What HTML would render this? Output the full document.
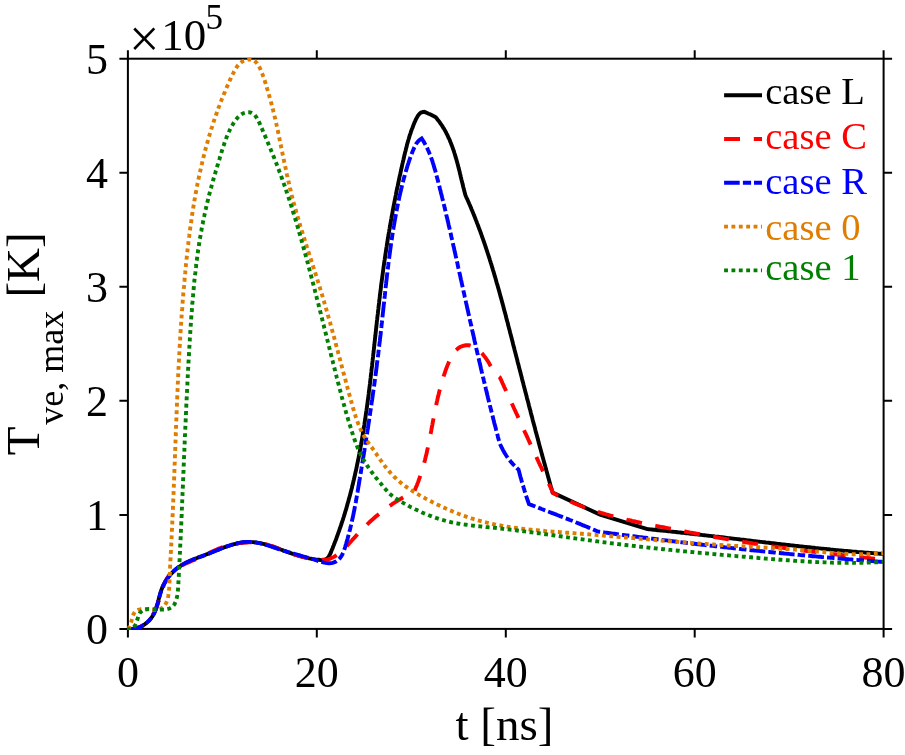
<!DOCTYPE html>
<html lang="en"><head><meta charset="utf-8"><title>T_ve,max vs t</title>
<style>html,body{margin:0;padding:0;background:#fff}svg{display:block}text{font-family:"Liberation Serif","Times New Roman",Times,serif;}</style></head><body>
<svg width="905" height="755" viewBox="0 0 905 755">
<rect width="905" height="755" fill="#fff"/>
<g stroke="#000" stroke-width="2.0" fill="none" stroke-linecap="butt">
<rect x="127.9" y="58.7" width="755.7" height="570.2"/>
<path d="M127.9 628.9 v8.5 M127.9 58.7 v-8.5 M316.8 628.9 v8.5 M316.8 58.7 v-8.5 M505.8 628.9 v8.5 M505.8 58.7 v-8.5 M694.7 628.9 v8.5 M694.7 58.7 v-8.5 M883.6 628.9 v8.5 M883.6 58.7 v-8.5 M127.9 628.9 h-8.5 M883.6 628.9 h8.5 M127.9 514.9 h-8.5 M883.6 514.9 h8.5 M127.9 400.8 h-8.5 M883.6 400.8 h8.5 M127.9 286.8 h-8.5 M883.6 286.8 h8.5 M127.9 172.7 h-8.5 M883.6 172.7 h8.5 M127.9 58.7 h-8.5 M883.6 58.7 h8.5"/>
</g>
<clipPath id="bx"><rect x="126.7" y="57.5" width="758.1" height="572.6"/></clipPath>
<g fill="none" stroke-width="3.9" stroke-linejoin="miter" clip-path="url(#bx)">
<path stroke="#000" d="M128.0 628.8 L129.5 629.0 L130.9 629.0 L132.4 628.9 L133.9 628.7 L135.4 628.5 L136.8 628.1 L138.3 627.6 L139.7 627.1 L141.1 626.4 L142.4 625.7 L143.8 624.9 L145.0 624.1 L146.3 623.1 L147.4 622.1 L148.6 621.1 L149.6 620.0 L150.6 618.8 L151.5 617.6 L152.4 616.4 L153.2 615.1 L153.9 613.8 L154.5 612.5 L155.1 611.1 L155.7 609.8 L156.2 608.4 L156.6 606.9 L157.1 605.5 L157.5 604.0 L157.9 602.6 L158.3 601.1 L158.6 599.6 L159.0 598.1 L159.4 596.7 L159.8 595.2 L160.2 593.7 L160.6 592.3 L161.1 590.8 L161.6 589.4 L162.1 588.0 L162.7 586.6 L163.3 585.3 L164.0 583.9 L164.7 582.6 L165.5 581.3 L166.3 580.1 L167.1 578.8 L168.0 577.6 L168.9 576.5 L169.8 575.3 L170.8 574.2 L171.8 573.1 L172.8 572.1 L173.9 571.0 L175.0 570.1 L176.1 569.1 L177.3 568.2 L178.4 567.3 L179.7 566.5 L180.9 565.7 L182.1 564.9 L183.4 564.1 L184.7 563.4 L186.0 562.7 L187.3 562.1 L188.7 561.4 L190.0 560.8 L191.4 560.2 L192.8 559.6 L194.2 559.1 L195.6 558.5 L197.0 558.0 L198.4 557.4 L199.9 556.9 L201.3 556.3 L202.7 555.8 L204.2 555.3 L205.6 554.7 L207.0 554.2 L208.5 553.6 L209.9 553.0 L211.3 552.5 L212.7 551.9 L214.2 551.3 L215.6 550.7 L217.0 550.2 L218.4 549.6 L219.9 549.0 L221.3 548.5 L222.7 548.0 L224.1 547.4 L225.6 546.9 L227.0 546.4 L228.4 545.9 L229.8 545.5 L231.3 545.0 L232.7 544.6 L234.1 544.2 L235.6 543.8 L237.0 543.5 L238.4 543.2 L239.9 542.9 L241.3 542.7 L242.7 542.5 L244.2 542.3 L245.6 542.2 L247.1 542.1 L248.5 542.0 L250.0 542.0 L251.4 542.1 L252.9 542.1 L254.3 542.3 L255.8 542.4 L257.2 542.6 L258.7 542.9 L260.2 543.2 L261.6 543.5 L263.1 543.8 L264.6 544.2 L266.0 544.6 L267.5 545.0 L269.0 545.5 L270.4 545.9 L271.9 546.4 L273.4 546.9 L274.8 547.4 L276.3 547.9 L277.7 548.4 L279.2 549.0 L280.6 549.5 L282.1 550.0 L283.5 550.6 L285.0 551.1 L286.4 551.6 L287.8 552.2 L289.2 552.7 L290.7 553.2 L292.1 553.7 L293.5 554.1 L294.9 554.6 L296.3 555.0 L297.7 555.4 L299.1 555.8 L300.5 556.2 L301.9 556.6 L303.4 557.0 L304.8 557.3 L306.3 557.7 L307.8 558.0 L309.2 558.3 L310.8 558.6 L312.3 558.9 L313.9 559.1 L315.5 559.4 L317.1 559.6 L318.8 559.8 L320.4 560.0 L322.1 560.1 L323.6 560.0 L325.0 559.7 L326.1 559.1 L327.2 558.3 L328.1 557.4 L328.9 556.3 L329.6 555.1 L330.3 553.7 L330.9 552.4 L331.4 551.0 L332.0 549.6 L332.6 548.2 L333.1 546.8 L333.7 545.4 L334.2 544.0 L334.8 542.6 L335.3 541.2 L335.9 539.8 L336.4 538.3 L336.9 536.9 L337.4 535.5 L337.9 534.1 L338.4 532.7 L338.9 531.3 L339.4 529.9 L339.9 528.4 L340.4 527.0 L340.9 525.6 L341.4 524.2 L341.8 522.7 L342.3 521.3 L342.8 519.9 L343.2 518.5 L343.7 517.0 L344.1 515.6 L344.6 514.2 L345.0 512.7 L345.4 511.3 L345.9 509.9 L346.3 508.4 L346.7 507.0 L347.1 505.6 L347.5 504.1 L347.9 502.7 L348.4 501.2 L348.7 499.8 L349.1 498.4 L349.5 496.9 L349.9 495.5 L350.3 494.0 L350.7 492.6 L351.0 491.1 L351.4 489.7 L351.8 488.2 L352.1 486.8 L352.5 485.3 L352.9 483.9 L353.2 482.4 L353.5 481.0 L353.9 479.5 L354.2 478.1 L354.6 476.6 L354.9 475.1 L355.2 473.7 L355.5 472.2 L355.9 470.8 L356.2 469.3 L356.5 467.8 L356.8 466.4 L357.1 464.9 L357.4 463.4 L357.7 462.0 L358.0 460.5 L358.3 459.1 L358.6 457.6 L358.9 456.1 L359.2 454.6 L359.5 453.2 L359.7 451.7 L360.0 450.2 L360.3 448.8 L360.5 447.3 L360.8 445.8 L361.1 444.3 L361.3 442.9 L361.6 441.4 L361.9 439.9 L362.1 438.4 L362.4 437.0 L362.6 435.5 L362.8 434.0 L363.1 432.5 L363.3 431.0 L363.6 429.6 L363.8 428.1 L364.0 426.6 L364.3 425.1 L364.5 423.6 L364.7 422.2 L364.9 420.7 L365.2 419.2 L365.4 417.7 L365.6 416.2 L365.8 414.7 L366.0 413.2 L366.2 411.8 L366.5 410.3 L366.7 408.8 L366.9 407.3 L367.1 405.8 L367.3 404.3 L367.5 402.8 L367.7 401.3 L367.9 399.9 L368.1 398.4 L368.3 396.9 L368.5 395.4 L368.7 393.9 L368.8 392.4 L369.0 390.9 L369.2 389.4 L369.4 387.9 L369.6 386.4 L369.8 384.9 L370.0 383.5 L370.1 382.0 L370.3 380.5 L370.5 379.0 L370.7 377.5 L370.8 376.0 L371.0 374.5 L371.2 373.0 L371.4 371.5 L371.5 370.0 L371.7 368.5 L371.9 367.0 L372.1 365.5 L372.2 364.0 L372.4 362.5 L372.6 361.0 L372.7 359.5 L372.9 358.0 L373.1 356.5 L373.2 355.1 L373.4 353.6 L373.6 352.1 L373.7 350.6 L373.9 349.1 L374.1 347.6 L374.2 346.1 L374.4 344.6 L374.5 343.1 L374.7 341.6 L374.9 340.1 L375.0 338.6 L375.2 337.1 L375.4 335.6 L375.5 334.1 L375.7 332.6 L375.9 331.1 L376.0 329.6 L376.2 328.1 L376.4 326.6 L376.5 325.1 L376.7 323.6 L376.8 322.1 L377.0 320.6 L377.2 319.2 L377.3 317.7 L377.5 316.2 L377.7 314.7 L377.9 313.2 L378.0 311.7 L378.2 310.2 L378.4 308.7 L378.5 307.2 L378.7 305.7 L378.9 304.2 L379.1 302.7 L379.2 301.2 L379.4 299.7 L379.6 298.3 L379.8 296.8 L379.9 295.3 L380.1 293.8 L380.3 292.3 L380.5 290.8 L380.7 289.3 L380.9 287.8 L381.0 286.3 L381.2 284.8 L381.4 283.4 L381.6 281.9 L381.8 280.4 L382.0 278.9 L382.2 277.4 L382.4 275.9 L382.6 274.4 L382.8 273.0 L383.0 271.5 L383.2 270.0 L383.4 268.5 L383.6 267.0 L383.8 265.5 L384.0 264.1 L384.2 262.6 L384.4 261.1 L384.7 259.6 L384.9 258.1 L385.1 256.7 L385.3 255.2 L385.5 253.7 L385.8 252.2 L386.0 250.7 L386.2 249.3 L386.4 247.8 L386.7 246.3 L386.9 244.8 L387.1 243.4 L387.4 241.9 L387.6 240.4 L387.8 238.9 L388.1 237.5 L388.3 236.0 L388.6 234.5 L388.8 233.0 L389.1 231.6 L389.3 230.1 L389.6 228.6 L389.8 227.1 L390.1 225.7 L390.3 224.2 L390.6 222.7 L390.9 221.2 L391.1 219.8 L391.4 218.3 L391.6 216.8 L391.9 215.4 L392.2 213.9 L392.5 212.4 L392.7 210.9 L393.0 209.5 L393.3 208.0 L393.6 206.5 L393.8 205.1 L394.1 203.6 L394.4 202.1 L394.7 200.7 L395.0 199.2 L395.3 197.7 L395.6 196.2 L395.9 194.8 L396.1 193.3 L396.4 191.8 L396.7 190.4 L397.0 188.9 L397.3 187.4 L397.7 186.0 L398.0 184.5 L398.3 183.0 L398.6 181.5 L398.9 180.1 L399.2 178.6 L399.5 177.1 L399.8 175.7 L400.2 174.2 L400.5 172.7 L400.8 171.3 L401.1 169.8 L401.5 168.3 L401.8 166.8 L402.1 165.4 L402.4 163.9 L402.8 162.4 L403.1 161.0 L403.5 159.5 L403.8 158.0 L404.1 156.6 L404.5 155.1 L404.8 153.6 L405.2 152.1 L405.6 150.7 L405.9 149.2 L406.3 147.7 L406.7 146.3 L407.0 144.8 L407.4 143.4 L407.8 141.9 L408.2 140.5 L408.7 139.0 L409.1 137.6 L409.5 136.2 L410.0 134.7 L410.5 133.3 L410.9 131.9 L411.4 130.5 L411.9 129.1 L412.5 127.7 L413.0 126.3 L413.5 124.9 L414.1 123.5 L414.7 122.1 L415.3 120.8 L415.9 119.4 L416.6 118.1 L417.3 116.8 L418.0 115.5 L418.9 114.4 L419.8 113.4 L421.0 112.6 L422.4 112.1 L424.1 111.8 L425.6 112.4 L427.1 113.0 L428.6 113.7 L430.1 114.3 L431.5 115.0 L433.0 115.8 L434.4 116.5 L435.8 117.3 L436.8 118.5 L437.7 119.7 L438.7 120.9 L439.6 122.1 L440.4 123.3 L441.3 124.5 L442.1 125.8 L442.9 127.1 L443.7 128.3 L444.5 129.6 L445.2 130.9 L445.9 132.2 L446.6 133.6 L447.3 134.9 L447.9 136.2 L448.5 137.6 L449.2 139.0 L449.8 140.3 L450.3 141.7 L450.9 143.1 L451.4 144.5 L452.0 145.9 L452.5 147.3 L453.0 148.8 L453.5 150.2 L454.0 151.6 L454.4 153.0 L454.9 154.5 L455.3 155.9 L455.7 157.4 L456.2 158.8 L456.6 160.3 L457.0 161.8 L457.4 163.2 L457.8 164.7 L458.2 166.2 L458.5 167.6 L458.9 169.1 L459.3 170.6 L459.7 172.1 L460.0 173.5 L460.4 175.0 L460.7 176.5 L461.1 178.0 L461.4 179.4 L461.8 180.9 L462.2 182.4 L462.5 183.8 L462.9 185.3 L463.2 186.7 L463.6 188.2 L464.0 189.7 L464.3 191.1 L464.7 192.5 L465.1 194.0 L465.5 195.4 L466.1 196.8 L466.7 198.1 L467.4 199.5 L468.0 200.9 L468.6 202.3 L469.2 203.7 L469.8 205.0 L470.4 206.4 L471.0 207.8 L471.5 209.2 L472.1 210.6 L472.7 212.0 L473.3 213.4 L473.8 214.8 L474.4 216.2 L474.9 217.6 L475.5 219.0 L476.0 220.4 L476.6 221.8 L477.1 223.2 L477.7 224.6 L478.2 226.0 L478.7 227.4 L479.2 228.8 L479.8 230.2 L480.3 231.6 L480.8 233.0 L481.3 234.4 L481.8 235.8 L482.3 237.3 L482.8 238.7 L483.3 240.1 L483.8 241.5 L484.3 242.9 L484.8 244.4 L485.3 245.8 L485.7 247.2 L486.2 248.6 L486.7 250.1 L487.2 251.5 L487.6 252.9 L488.1 254.3 L488.6 255.8 L489.0 257.2 L489.5 258.6 L489.9 260.1 L490.4 261.5 L490.8 262.9 L491.3 264.4 L491.7 265.8 L492.1 267.2 L492.6 268.7 L493.0 270.1 L493.5 271.6 L493.9 273.0 L494.3 274.4 L494.7 275.9 L495.2 277.3 L495.6 278.8 L496.0 280.2 L496.4 281.7 L496.8 283.1 L497.3 284.6 L497.7 286.0 L498.1 287.5 L498.5 288.9 L498.9 290.3 L499.3 291.8 L499.7 293.2 L500.1 294.7 L500.5 296.2 L500.9 297.6 L501.3 299.1 L501.7 300.5 L502.1 302.0 L502.5 303.4 L502.9 304.9 L503.3 306.3 L503.6 307.8 L504.0 309.2 L504.4 310.7 L504.8 312.1 L505.2 313.6 L505.6 315.1 L506.0 316.5 L506.3 318.0 L506.7 319.4 L507.1 320.9 L507.5 322.3 L507.9 323.8 L508.2 325.3 L508.6 326.7 L509.0 328.2 L509.4 329.6 L509.8 331.1 L510.1 332.5 L510.5 334.0 L510.9 335.5 L511.3 336.9 L511.6 338.4 L512.0 339.8 L512.4 341.3 L512.8 342.8 L513.1 344.2 L513.5 345.7 L513.9 347.1 L514.3 348.6 L514.6 350.0 L515.0 351.5 L515.4 353.0 L515.8 354.4 L516.1 355.9 L516.5 357.3 L516.9 358.8 L517.3 360.3 L517.6 361.7 L518.0 363.2 L518.4 364.6 L518.8 366.1 L519.1 367.6 L519.5 369.0 L519.9 370.5 L520.3 371.9 L520.6 373.4 L521.0 374.8 L521.4 376.3 L521.8 377.8 L522.1 379.2 L522.5 380.7 L522.9 382.1 L523.3 383.6 L523.6 385.0 L524.0 386.5 L524.4 388.0 L524.8 389.4 L525.1 390.9 L525.5 392.3 L525.9 393.8 L526.3 395.3 L526.7 396.7 L527.0 398.2 L527.4 399.6 L527.8 401.1 L528.2 402.5 L528.6 404.0 L528.9 405.5 L529.3 406.9 L529.7 408.4 L530.1 409.8 L530.5 411.3 L530.8 412.7 L531.2 414.2 L531.6 415.6 L532.0 417.1 L532.4 418.6 L532.7 420.0 L533.1 421.5 L533.5 422.9 L533.9 424.4 L534.3 425.8 L534.7 427.3 L535.1 428.7 L535.4 430.2 L535.8 431.7 L536.2 433.1 L536.6 434.6 L537.0 436.0 L537.4 437.5 L537.8 438.9 L538.2 440.4 L538.5 441.8 L538.9 443.3 L539.3 444.7 L539.7 446.2 L540.1 447.6 L540.5 449.1 L540.9 450.6 L541.3 452.0 L541.7 453.5 L542.1 454.9 L542.5 456.4 L542.9 457.8 L543.3 459.3 L543.7 460.7 L544.1 462.2 L544.5 463.6 L544.9 465.1 L545.3 466.5 L545.7 468.0 L546.1 469.4 L546.5 470.9 L546.9 472.3 L547.3 473.8 L547.7 475.2 L548.1 476.7 L548.5 478.1 L548.9 479.6 L549.3 481.0 L549.7 482.5 L550.1 483.9 L550.5 485.4 L550.9 486.8 L551.4 488.3 L551.8 489.7 L552.2 491.2 L552.6 492.6 L600.0 514.6 L647.4 529.1 L648.9 529.2 L650.4 529.4 L651.9 529.5 L653.4 529.7 L654.9 529.8 L656.4 530.0 L657.9 530.2 L659.4 530.3 L660.9 530.5 L662.4 530.6 L663.9 530.8 L665.4 530.9 L666.9 531.1 L668.4 531.2 L669.9 531.4 L671.4 531.6 L672.9 531.7 L674.4 531.9 L675.9 532.0 L677.4 532.2 L678.9 532.4 L680.4 532.5 L681.9 532.7 L683.4 532.9 L684.9 533.0 L686.4 533.2 L687.9 533.4 L689.4 533.5 L690.9 533.7 L692.4 533.9 L693.9 534.0 L695.4 534.2 L696.9 534.4 L698.4 534.6 L699.9 534.7 L701.4 534.9 L702.9 535.1 L704.4 535.2 L705.9 535.4 L707.4 535.6 L708.9 535.8 L710.4 535.9 L711.9 536.1 L713.4 536.3 L714.9 536.5 L716.4 536.6 L717.9 536.8 L719.4 537.0 L720.9 537.2 L722.4 537.3 L723.9 537.5 L725.4 537.7 L726.9 537.9 L728.4 538.1 L729.9 538.2 L731.4 538.4 L732.9 538.6 L734.4 538.8 L735.9 538.9 L737.4 539.1 L738.9 539.3 L740.4 539.5 L741.9 539.6 L743.4 539.8 L744.9 540.0 L746.4 540.2 L747.9 540.4 L749.4 540.5 L750.9 540.7 L752.4 540.9 L753.9 541.1 L755.4 541.2 L756.9 541.4 L758.4 541.6 L759.9 541.8 L761.4 541.9 L762.9 542.1 L764.4 542.3 L765.9 542.5 L767.4 542.6 L768.9 542.8 L770.4 543.0 L771.9 543.2 L773.4 543.3 L774.9 543.5 L776.4 543.7 L777.9 543.9 L779.4 544.0 L780.9 544.2 L782.4 544.4 L783.9 544.5 L785.4 544.7 L786.9 544.9 L788.4 545.0 L789.9 545.2 L791.3 545.4 L792.8 545.5 L794.3 545.7 L795.8 545.9 L797.3 546.0 L798.8 546.2 L800.3 546.4 L801.8 546.5 L803.3 546.7 L804.8 546.9 L806.3 547.0 L807.8 547.2 L809.4 547.3 L810.9 547.5 L812.4 547.7 L813.9 547.8 L815.4 548.0 L816.9 548.1 L818.4 548.3 L819.9 548.4 L821.4 548.6 L822.9 548.7 L824.4 548.9 L825.9 549.0 L827.4 549.2 L828.9 549.3 L830.4 549.5 L831.9 549.6 L833.4 549.8 L834.9 549.9 L836.4 550.1 L837.9 550.2 L839.4 550.4 L840.9 550.5 L842.4 550.6 L843.9 550.8 L845.4 550.9 L846.9 551.0 L848.4 551.2 L849.9 551.3 L851.4 551.4 L852.9 551.6 L854.4 551.7 L855.9 551.8 L857.4 552.0 L858.9 552.1 L860.4 552.2 L861.9 552.3 L863.4 552.4 L864.9 552.6 L866.4 552.7 L867.9 552.8 L869.4 552.9 L871.0 553.0 L872.5 553.1 L874.0 553.3 L875.5 553.4 L877.0 553.5 L878.5 553.6 L880.0 553.7 L881.5 553.8 L883.0 553.9"/>
<path stroke="#f00" stroke-dasharray="15.9 13.6" stroke-dashoffset="-0.5" d="M128.0 628.8 L129.7 628.9 L131.3 628.9 L132.9 628.8 L134.5 628.6 L136.0 628.3 L137.4 628.0 L138.8 627.5 L140.1 627.0 L141.4 626.3 L142.6 625.6 L143.8 624.8 L145.0 624.0 L146.1 623.1 L147.1 622.1 L148.1 621.1 L149.1 620.0 L150.0 618.9 L150.9 617.7 L151.7 616.5 L152.5 615.2 L153.3 613.9 L154.0 612.6 L154.7 611.2 L155.4 609.8 L156.0 608.4 L156.6 607.0 L157.1 605.6 L157.6 604.1 L158.1 602.6 L158.6 601.2 L159.1 599.7 L159.6 598.2 L160.0 596.7 L160.5 595.2 L160.9 593.7 L161.4 592.3 L161.9 590.8 L162.3 589.3 L162.8 587.9 L163.3 586.5 L163.9 585.1 L164.4 583.7 L165.0 582.4 L165.6 581.0 L166.3 579.8 L167.0 578.5 L167.7 577.3 L168.5 576.1 L169.3 575.0 L170.2 573.9 L171.2 572.8 L172.2 571.8 L173.2 570.9 L174.4 570.0 L175.5 569.1 L176.8 568.3 L178.0 567.5 L179.3 566.7 L180.7 566.0 L182.0 565.3 L183.4 564.6 L184.8 564.0 L186.3 563.3 L187.7 562.7 L189.1 562.1 L190.6 561.4 L192.0 560.8 L193.5 560.2 L194.9 559.6 L196.4 559.0 L197.8 558.3 L199.2 557.7 L200.6 557.0 L201.9 556.4 L203.3 555.7 L204.7 555.1 L206.0 554.5 L207.4 553.8 L208.7 553.2 L210.0 552.5 L211.4 551.9 L212.7 551.3 L214.1 550.7 L215.4 550.1 L216.8 549.5 L218.1 548.9 L219.5 548.4 L220.9 547.9 L222.3 547.3 L223.7 546.9 L225.1 546.4 L226.5 546.0 L227.9 545.5 L229.4 545.1 L230.8 544.8 L232.3 544.4 L233.8 544.1 L235.3 543.8 L236.7 543.5 L238.2 543.3 L239.7 543.1 L241.2 542.9 L242.7 542.8 L244.2 542.6 L245.7 542.5 L247.3 542.5 L248.8 542.4 L250.3 542.4 L251.8 542.4 L253.3 542.5 L254.8 542.6 L256.3 542.7 L257.8 542.9 L259.2 543.1 L260.7 543.3 L262.2 543.5 L263.6 543.8 L265.1 544.2 L266.5 544.5 L268.0 544.9 L269.4 545.3 L270.8 545.8 L272.2 546.2 L273.6 546.7 L275.0 547.2 L276.4 547.7 L277.9 548.3 L279.3 548.8 L280.7 549.3 L282.1 549.9 L283.5 550.5 L284.9 551.0 L286.3 551.6 L287.7 552.1 L289.1 552.6 L290.5 553.2 L292.0 553.7 L293.4 554.2 L294.8 554.7 L296.3 555.1 L297.7 555.6 L299.2 556.0 L300.7 556.4 L302.2 556.8 L303.6 557.2 L305.1 557.5 L306.6 557.8 L308.1 558.1 L309.6 558.4 L311.1 558.7 L312.6 558.9 L314.1 559.2 L315.6 559.3 L317.1 559.5 L318.6 559.7 L320.1 559.8 L321.6 559.8 L323.1 559.8 L324.5 559.8 L326.0 559.6 L327.4 559.4 L328.7 559.1 L330.1 558.7 L331.4 558.1 L332.7 557.5 L334.0 556.9 L335.2 556.1 L336.4 555.3 L337.6 554.5 L338.8 553.6 L339.9 552.6 L341.0 551.6 L342.1 550.6 L343.2 549.6 L344.3 548.5 L345.4 547.5 L346.4 546.4 L347.5 545.3 L348.5 544.2 L349.6 543.0 L350.6 541.9 L351.6 540.8 L352.6 539.6 L353.7 538.5 L354.7 537.4 L355.7 536.2 L356.7 535.1 L357.7 534.0 L358.8 532.9 L359.8 531.8 L360.9 530.7 L361.9 529.6 L363.0 528.5 L364.0 527.5 L365.1 526.4 L366.2 525.4 L367.3 524.3 L368.3 523.3 L369.4 522.3 L370.5 521.3 L371.6 520.3 L372.8 519.3 L373.9 518.3 L375.0 517.3 L376.1 516.3 L377.3 515.4 L378.4 514.4 L379.6 513.5 L380.8 512.6 L381.9 511.6 L383.1 510.7 L384.3 509.8 L385.5 508.9 L386.7 508.0 L387.9 507.1 L389.1 506.3 L390.4 505.4 L391.6 504.6 L392.8 503.7 L394.1 502.9 L395.3 502.1 L396.6 501.3 L397.9 500.5 L399.2 499.7 L400.5 499.0 L401.8 498.2 L403.1 497.5 L404.4 496.8 L405.7 496.1 L407.1 495.4 L408.4 494.7 L409.8 494.1 L411.1 493.4 L412.5 492.8 L413.9 492.2 L414.5 490.8 L415.1 489.4 L415.7 488.0 L416.3 486.6 L416.9 485.2 L417.4 483.8 L418.0 482.4 L418.5 481.0 L419.0 479.5 L419.5 478.1 L420.0 476.7 L420.5 475.3 L421.0 473.9 L421.4 472.4 L421.9 471.0 L422.3 469.6 L422.7 468.1 L423.1 466.7 L423.5 465.3 L423.9 463.8 L424.3 462.4 L424.7 461.0 L425.1 459.5 L425.4 458.1 L425.8 456.6 L426.1 455.2 L426.5 453.7 L426.8 452.3 L427.1 450.8 L427.4 449.4 L427.8 447.9 L428.1 446.5 L428.4 445.0 L428.7 443.6 L429.0 442.1 L429.3 440.7 L429.6 439.2 L429.9 437.7 L430.1 436.3 L430.4 434.8 L430.7 433.4 L431.0 431.9 L431.3 430.4 L431.5 429.0 L431.8 427.5 L432.1 426.0 L432.4 424.6 L432.6 423.1 L432.9 421.6 L433.2 420.2 L433.5 418.7 L433.8 417.2 L434.0 415.8 L434.3 414.3 L434.6 412.8 L434.9 411.3 L435.2 409.9 L435.5 408.4 L435.8 406.9 L436.1 405.5 L436.4 404.0 L436.7 402.5 L437.1 401.0 L437.4 399.6 L437.7 398.1 L438.1 396.6 L438.4 395.2 L438.8 393.7 L439.1 392.2 L439.5 390.8 L439.9 389.3 L440.3 387.8 L440.7 386.3 L441.1 384.9 L441.5 383.4 L441.9 381.9 L442.3 380.5 L442.8 379.0 L443.2 377.6 L443.7 376.1 L444.2 374.6 L444.7 373.2 L445.2 371.7 L445.7 370.2 L446.2 368.8 L446.8 367.3 L447.3 365.9 L447.9 364.4 L448.5 363.0 L449.1 361.5 L449.7 360.1 L450.4 358.7 L451.0 357.3 L451.8 356.0 L452.5 354.7 L453.3 353.4 L454.2 352.3 L455.1 351.2 L456.0 350.1 L457.1 349.2 L458.1 348.3 L459.3 347.5 L460.5 346.8 L461.8 346.3 L463.2 345.8 L464.6 345.5 L466.1 345.3 L467.5 345.2 L469.0 345.3 L470.4 345.6 L471.7 346.0 L473.1 346.6 L474.4 347.2 L475.7 348.0 L477.0 348.8 L478.2 349.8 L479.4 350.8 L480.6 351.9 L481.7 353.1 L482.8 354.3 L483.8 355.6 L484.8 356.9 L485.8 358.2 L486.7 359.5 L487.6 360.8 L488.4 362.1 L489.2 363.4 L489.9 364.7 L490.6 365.9 L491.3 367.1 L491.9 368.3 L492.6 369.4 L493.3 370.5 L494.1 371.7 L495.0 372.8 L496.0 374.0 L497.1 375.1 L498.4 376.3 L499.9 377.5 L500.5 378.9 L501.2 380.2 L501.8 381.6 L502.4 383.0 L503.1 384.4 L503.7 385.7 L504.3 387.1 L505.0 388.5 L505.6 389.9 L506.2 391.2 L506.9 392.6 L507.5 394.0 L508.1 395.4 L508.8 396.8 L509.4 398.1 L510.0 399.5 L510.7 400.9 L511.3 402.3 L511.9 403.6 L512.6 405.0 L513.2 406.4 L513.8 407.8 L514.4 409.1 L515.1 410.5 L515.7 411.9 L516.3 413.3 L517.0 414.7 L517.6 416.0 L518.2 417.4 L518.9 418.8 L519.5 420.2 L520.1 421.5 L520.7 422.9 L521.4 424.3 L522.0 425.7 L522.6 427.1 L523.3 428.4 L523.9 429.8 L524.5 431.2 L525.1 432.6 L525.8 433.9 L526.4 435.3 L527.0 436.7 L527.7 438.1 L528.3 439.5 L528.9 440.8 L529.5 442.2 L530.2 443.6 L530.8 445.0 L531.4 446.3 L532.1 447.7 L532.7 449.1 L533.3 450.5 L534.0 451.8 L534.6 453.2 L535.2 454.6 L535.9 456.0 L536.5 457.3 L537.1 458.7 L537.8 460.1 L538.4 461.5 L539.0 462.8 L539.7 464.2 L540.3 465.6 L541.0 467.0 L541.6 468.3 L542.2 469.7 L542.9 471.1 L543.5 472.5 L544.2 473.8 L544.8 475.2 L545.4 476.6 L546.1 477.9 L546.7 479.3 L547.4 480.7 L548.0 482.1 L548.7 483.4 L549.3 484.8 L550.0 486.2 L550.6 487.5 L551.2 488.9 L551.9 490.3 L552.5 491.6 L553.2 493.0 L554.5 493.7 L555.9 494.5 L557.2 495.2 L558.5 495.9 L559.9 496.6 L561.2 497.2 L562.6 497.9 L563.9 498.6 L565.3 499.2 L566.7 499.9 L568.0 500.5 L569.4 501.1 L570.8 501.7 L572.2 502.3 L573.5 502.9 L574.9 503.5 L576.3 504.1 L577.7 504.6 L579.1 505.2 L580.5 505.7 L581.9 506.3 L583.3 506.8 L584.7 507.3 L586.1 507.8 L587.5 508.3 L588.9 508.8 L590.3 509.3 L591.7 509.8 L593.1 510.3 L594.6 510.8 L596.0 511.2 L597.4 511.7 L598.8 512.1 L600.3 512.6 L601.7 513.0 L603.1 513.4 L604.6 513.8 L606.0 514.3 L607.4 514.7 L608.9 515.1 L610.3 515.5 L611.8 515.9 L613.2 516.3 L614.7 516.6 L616.1 517.0 L617.6 517.4 L619.0 517.7 L620.5 518.1 L621.9 518.5 L623.4 518.8 L624.8 519.2 L626.3 519.5 L627.8 519.9 L629.2 520.2 L630.7 520.5 L632.1 520.9 L633.6 521.2 L635.1 521.5 L636.5 521.8 L638.0 522.1 L639.5 522.5 L641.0 522.8 L642.4 523.1 L643.9 523.4 L645.4 523.7 L646.8 524.0 L648.3 524.3 L649.8 524.6 L651.3 524.9 L652.7 525.2 L654.2 525.5 L655.7 525.8 L657.2 526.1 L658.6 526.4 L660.1 526.7 L661.6 526.9 L663.1 527.2 L664.5 527.5 L666.0 527.8 L667.5 528.1 L669.0 528.4 L670.5 528.7 L671.9 529.0 L673.4 529.3 L674.9 529.5 L676.4 529.8 L677.8 530.1 L679.3 530.4 L680.8 530.7 L682.3 531.0 L683.8 531.2 L685.2 531.5 L686.7 531.8 L688.2 532.1 L689.7 532.4 L691.1 532.6 L692.6 532.9 L694.1 533.2 L695.6 533.5 L697.1 533.8 L698.5 534.0 L700.0 534.3 L701.5 534.6 L703.0 534.9 L704.4 535.1 L705.9 535.4 L707.4 535.7 L708.9 535.9 L710.4 536.2 L711.8 536.5 L713.3 536.7 L714.8 537.0 L716.3 537.3 L717.8 537.5 L719.2 537.8 L720.7 538.1 L722.2 538.3 L723.7 538.6 L725.2 538.8 L726.6 539.1 L728.1 539.3 L729.6 539.6 L731.1 539.9 L732.6 540.1 L734.1 540.4 L735.5 540.6 L737.0 540.8 L738.5 541.1 L740.0 541.3 L741.5 541.6 L742.9 541.8 L744.4 542.1 L745.9 542.3 L747.4 542.5 L748.9 542.8 L750.4 543.0 L751.8 543.2 L753.3 543.5 L754.8 543.7 L756.3 543.9 L757.8 544.2 L759.3 544.4 L760.7 544.6 L762.2 544.8 L763.7 545.1 L765.2 545.3 L766.7 545.5 L768.2 545.7 L769.7 545.9 L771.1 546.2 L772.6 546.4 L774.1 546.6 L775.6 546.8 L777.1 547.0 L778.6 547.2 L780.1 547.4 L781.5 547.6 L783.0 547.8 L784.5 548.0 L786.0 548.2 L787.5 548.4 L789.0 548.6 L790.5 548.8 L792.0 549.0 L793.5 549.2 L794.9 549.4 L796.4 549.6 L797.9 549.8 L799.4 550.0 L800.9 550.2 L802.4 550.4 L803.9 550.6 L805.4 550.8 L806.9 551.0 L808.3 551.1 L809.8 551.3 L811.3 551.5 L812.8 551.7 L814.3 551.9 L815.8 552.1 L817.3 552.2 L818.8 552.4 L820.3 552.6 L821.8 552.8 L823.2 552.9 L824.7 553.1 L826.2 553.3 L827.7 553.5 L829.2 553.6 L830.7 553.8 L832.2 554.0 L833.7 554.2 L835.2 554.3 L836.7 554.5 L838.2 554.7 L839.7 554.8 L841.2 555.0 L842.6 555.2 L844.1 555.3 L845.6 555.5 L847.1 555.7 L848.6 555.8 L850.1 556.0 L851.6 556.2 L853.1 556.3 L854.6 556.5 L856.1 556.7 L857.6 556.8 L859.1 557.0 L860.6 557.1 L862.1 557.3 L863.6 557.5 L865.1 557.6 L866.5 557.8 L868.0 557.9 L869.5 558.1 L871.0 558.3 L872.5 558.4 L874.0 558.6 L875.5 558.7 L877.0 558.9 L878.5 559.0 L880.0 559.2 L881.5 559.3 L883.0 559.5"/>
<path stroke="#00f" stroke-dasharray="15.8 3.1 7.5 3.1" stroke-dashoffset="-0.5" d="M128.0 628.8 L129.5 629.0 L131.0 629.0 L132.5 628.9 L134.0 628.7 L135.4 628.5 L136.9 628.1 L138.3 627.6 L139.7 627.1 L141.1 626.4 L142.5 625.7 L143.8 624.9 L145.1 624.0 L146.3 623.1 L147.4 622.1 L148.5 621.1 L149.6 620.0 L150.6 618.8 L151.5 617.6 L152.3 616.4 L153.1 615.1 L153.8 613.8 L154.5 612.5 L155.1 611.1 L155.6 609.7 L156.1 608.3 L156.6 606.9 L157.0 605.5 L157.5 604.0 L157.9 602.6 L158.3 601.1 L158.7 599.6 L159.0 598.1 L159.4 596.7 L159.8 595.2 L160.3 593.7 L160.7 592.3 L161.2 590.8 L161.7 589.4 L162.2 588.0 L162.8 586.6 L163.4 585.2 L164.1 583.9 L164.8 582.6 L165.5 581.3 L166.3 580.0 L167.1 578.8 L168.0 577.6 L168.9 576.4 L169.8 575.2 L170.8 574.1 L171.8 573.0 L172.8 572.0 L173.9 571.0 L175.0 570.0 L176.1 569.0 L177.2 568.1 L178.4 567.2 L179.6 566.4 L180.9 565.6 L182.1 564.8 L183.4 564.1 L184.7 563.4 L186.0 562.7 L187.4 562.1 L188.7 561.4 L190.1 560.8 L191.5 560.3 L192.9 559.7 L194.3 559.1 L195.7 558.6 L197.1 558.0 L198.5 557.5 L200.0 557.0 L201.4 556.5 L202.9 555.9 L204.3 555.4 L205.7 554.8 L207.2 554.3 L208.6 553.7 L210.0 553.1 L211.5 552.5 L212.9 551.9 L214.3 551.3 L215.7 550.8 L217.1 550.2 L218.6 549.6 L220.0 549.0 L221.4 548.4 L222.8 547.9 L224.2 547.3 L225.6 546.8 L227.0 546.3 L228.5 545.8 L229.9 545.3 L231.3 544.8 L232.7 544.4 L234.1 544.0 L235.6 543.6 L237.0 543.3 L238.4 542.9 L239.8 542.7 L241.3 542.4 L242.7 542.2 L244.2 542.1 L245.6 542.0 L247.1 541.9 L248.5 541.9 L250.0 541.9 L251.4 542.0 L252.9 542.1 L254.4 542.3 L255.9 542.5 L257.3 542.8 L258.8 543.1 L260.3 543.4 L261.8 543.8 L263.3 544.2 L264.8 544.6 L266.3 545.0 L267.7 545.5 L269.2 545.9 L270.7 546.4 L272.2 546.9 L273.6 547.4 L275.1 547.9 L276.6 548.4 L278.0 548.9 L279.4 549.3 L280.9 549.8 L282.3 550.2 L283.7 550.7 L285.2 551.1 L286.6 551.5 L288.0 552.0 L289.4 552.4 L290.8 552.8 L292.2 553.2 L293.6 553.6 L295.0 554.0 L296.4 554.4 L297.8 554.8 L299.2 555.2 L300.6 555.7 L302.1 556.1 L303.5 556.5 L304.9 556.9 L306.3 557.3 L307.8 557.7 L309.2 558.2 L310.6 558.6 L312.1 559.0 L313.6 559.5 L315.0 559.9 L316.5 560.4 L318.0 560.9 L319.5 561.3 L321.0 561.8 L322.5 562.2 L324.0 562.6 L325.5 562.9 L327.0 563.1 L328.4 563.2 L329.8 563.2 L331.2 563.1 L332.6 562.8 L333.9 562.4 L335.1 561.9 L336.3 561.3 L337.4 560.5 L338.5 559.6 L339.5 558.7 L340.4 557.6 L341.2 556.4 L341.9 555.2 L342.6 553.9 L343.2 552.5 L343.8 551.1 L344.3 549.6 L344.8 548.1 L345.3 546.6 L345.7 545.1 L346.2 543.6 L346.6 542.1 L347.0 540.6 L347.5 539.1 L347.9 537.6 L348.3 536.1 L348.7 534.6 L349.1 533.2 L349.4 531.7 L349.8 530.2 L350.2 528.7 L350.5 527.2 L350.9 525.7 L351.2 524.2 L351.6 522.8 L351.9 521.3 L352.2 519.8 L352.6 518.3 L352.9 516.8 L353.2 515.4 L353.5 513.9 L353.8 512.4 L354.1 510.9 L354.4 509.5 L354.7 508.0 L354.9 506.5 L355.2 505.1 L355.5 503.6 L355.8 502.1 L356.0 500.7 L356.3 499.2 L356.6 497.7 L356.8 496.2 L357.1 494.8 L357.3 493.3 L357.6 491.8 L357.8 490.4 L358.1 488.9 L358.3 487.4 L358.6 486.0 L358.8 484.5 L359.1 483.0 L359.3 481.5 L359.5 480.1 L359.8 478.6 L360.0 477.1 L360.3 475.7 L360.5 474.2 L360.8 472.7 L361.0 471.2 L361.2 469.8 L361.5 468.3 L361.7 466.8 L362.0 465.3 L362.2 463.9 L362.5 462.4 L362.7 460.9 L362.9 459.4 L363.2 458.0 L363.4 456.5 L363.7 455.0 L363.9 453.5 L364.1 452.1 L364.4 450.6 L364.6 449.1 L364.8 447.6 L365.1 446.1 L365.3 444.7 L365.5 443.2 L365.8 441.7 L366.0 440.2 L366.2 438.7 L366.5 437.2 L366.7 435.8 L366.9 434.3 L367.2 432.8 L367.4 431.3 L367.6 429.8 L367.9 428.3 L368.1 426.9 L368.3 425.4 L368.5 423.9 L368.8 422.4 L369.0 420.9 L369.2 419.4 L369.4 418.0 L369.7 416.5 L369.9 415.0 L370.1 413.5 L370.3 412.0 L370.5 410.5 L370.8 409.0 L371.0 407.6 L371.2 406.1 L371.4 404.6 L371.6 403.1 L371.8 401.6 L372.1 400.1 L372.3 398.6 L372.5 397.1 L372.7 395.6 L372.9 394.2 L373.1 392.7 L373.3 391.2 L373.5 389.7 L373.8 388.2 L374.0 386.7 L374.2 385.2 L374.4 383.7 L374.6 382.2 L374.8 380.7 L375.0 379.3 L375.2 377.8 L375.4 376.3 L375.6 374.8 L375.8 373.3 L376.0 371.8 L376.2 370.3 L376.4 368.8 L376.6 367.3 L376.8 365.8 L376.9 364.3 L377.1 362.8 L377.3 361.4 L377.5 359.9 L377.7 358.4 L377.9 356.9 L378.1 355.4 L378.3 353.9 L378.4 352.4 L378.6 350.9 L378.8 349.4 L379.0 347.9 L379.2 346.4 L379.3 344.9 L379.5 343.4 L379.7 342.0 L379.9 340.5 L380.0 339.0 L380.2 337.5 L380.4 336.0 L380.6 334.5 L380.7 333.0 L380.9 331.5 L381.1 330.0 L381.2 328.5 L381.4 327.0 L381.5 325.5 L381.7 324.0 L381.9 322.5 L382.0 321.0 L382.2 319.6 L382.4 318.1 L382.5 316.6 L382.7 315.1 L382.8 313.6 L383.0 312.1 L383.2 310.6 L383.3 309.1 L383.5 307.6 L383.6 306.1 L383.8 304.6 L384.0 303.1 L384.1 301.6 L384.3 300.2 L384.4 298.7 L384.6 297.2 L384.8 295.7 L384.9 294.2 L385.1 292.7 L385.2 291.2 L385.4 289.7 L385.6 288.2 L385.7 286.7 L385.9 285.2 L386.1 283.7 L386.2 282.3 L386.4 280.8 L386.6 279.3 L386.8 277.8 L386.9 276.3 L387.1 274.8 L387.3 273.3 L387.4 271.8 L387.6 270.3 L387.8 268.9 L388.0 267.4 L388.2 265.9 L388.3 264.4 L388.5 262.9 L388.7 261.4 L388.9 259.9 L389.1 258.4 L389.3 257.0 L389.5 255.5 L389.7 254.0 L389.9 252.5 L390.1 251.0 L390.3 249.5 L390.5 248.0 L390.7 246.6 L390.9 245.1 L391.1 243.6 L391.3 242.1 L391.6 240.6 L391.8 239.1 L392.0 237.7 L392.2 236.2 L392.4 234.7 L392.7 233.2 L392.9 231.7 L393.1 230.3 L393.4 228.8 L393.6 227.3 L393.9 225.8 L394.1 224.3 L394.4 222.9 L394.6 221.4 L394.9 219.9 L395.2 218.4 L395.4 217.0 L395.7 215.5 L396.0 214.0 L396.2 212.5 L396.5 211.1 L396.8 209.6 L397.1 208.1 L397.4 206.6 L397.7 205.2 L398.0 203.7 L398.3 202.2 L398.6 200.8 L398.9 199.3 L399.2 197.8 L399.5 196.3 L399.9 194.9 L400.2 193.4 L400.5 191.9 L400.9 190.5 L401.2 189.0 L401.6 187.5 L401.9 186.1 L402.3 184.6 L402.6 183.2 L403.0 181.7 L403.4 180.2 L403.8 178.8 L404.2 177.3 L404.6 175.9 L405.0 174.4 L405.4 173.0 L405.8 171.5 L406.2 170.1 L406.7 168.6 L407.1 167.2 L407.5 165.8 L408.0 164.3 L408.5 162.9 L408.9 161.5 L409.4 160.1 L409.9 158.7 L410.4 157.2 L410.9 155.8 L411.5 154.4 L412.0 153.0 L412.5 151.6 L413.1 150.2 L413.7 148.9 L414.2 147.5 L414.9 146.2 L415.6 144.9 L416.3 143.6 L417.2 142.4 L418.1 141.3 L419.2 140.3 L420.4 139.3 L421.7 138.5 L422.5 139.7 L423.3 141.0 L424.1 142.3 L424.8 143.6 L425.5 144.9 L426.2 146.2 L426.9 147.5 L427.5 148.8 L428.1 150.2 L428.7 151.5 L429.3 152.9 L429.8 154.2 L430.4 155.6 L430.9 157.0 L431.4 158.4 L431.9 159.8 L432.4 161.2 L432.8 162.6 L433.3 164.1 L433.7 165.5 L434.1 166.9 L434.5 168.4 L435.0 169.8 L435.4 171.2 L435.8 172.7 L436.1 174.1 L436.5 175.6 L436.9 177.0 L437.3 178.5 L437.7 179.9 L438.1 181.4 L438.4 182.9 L438.8 184.3 L439.2 185.8 L439.6 187.2 L439.9 188.7 L440.3 190.1 L440.7 191.6 L441.0 193.0 L441.4 194.5 L441.8 196.0 L442.1 197.4 L442.5 198.9 L442.8 200.3 L443.2 201.8 L443.5 203.3 L443.9 204.7 L444.3 206.2 L444.6 207.6 L445.0 209.1 L445.3 210.6 L445.7 212.0 L446.0 213.5 L446.3 215.0 L446.7 216.4 L447.0 217.9 L447.4 219.3 L447.7 220.8 L448.1 222.3 L448.4 223.7 L448.7 225.2 L449.1 226.7 L449.4 228.1 L449.8 229.6 L450.1 231.1 L450.4 232.5 L450.8 234.0 L451.1 235.5 L451.4 236.9 L451.8 238.4 L452.1 239.9 L452.4 241.3 L452.8 242.8 L453.1 244.3 L453.4 245.7 L453.8 247.2 L454.1 248.7 L454.4 250.1 L454.7 251.6 L455.1 253.1 L455.4 254.5 L455.7 256.0 L456.1 257.5 L456.4 258.9 L456.7 260.4 L457.0 261.9 L457.4 263.3 L457.7 264.8 L458.0 266.3 L458.3 267.7 L458.7 269.2 L459.0 270.6 L459.3 272.1 L459.6 273.6 L460.0 275.0 L460.3 276.5 L460.6 278.0 L460.9 279.4 L461.3 280.9 L461.6 282.4 L461.9 283.8 L462.2 285.3 L462.6 286.8 L462.9 288.2 L463.2 289.7 L463.5 291.2 L463.9 292.6 L464.2 294.1 L464.5 295.6 L464.8 297.0 L465.2 298.5 L465.5 300.0 L465.8 301.4 L466.1 302.9 L466.5 304.4 L466.8 305.8 L467.1 307.3 L467.4 308.8 L467.8 310.2 L468.1 311.7 L468.4 313.1 L468.7 314.6 L469.1 316.1 L469.4 317.5 L469.7 319.0 L470.0 320.5 L470.4 321.9 L470.7 323.4 L471.0 324.9 L471.4 326.3 L471.7 327.8 L472.0 329.3 L472.3 330.7 L472.7 332.2 L473.0 333.6 L473.3 335.1 L473.7 336.6 L474.0 338.0 L474.3 339.5 L474.6 341.0 L475.0 342.4 L475.3 343.9 L475.6 345.3 L476.0 346.8 L476.3 348.3 L476.6 349.7 L477.0 351.2 L477.3 352.7 L477.7 354.1 L478.0 355.6 L478.3 357.0 L478.7 358.5 L479.0 360.0 L479.3 361.4 L479.7 362.9 L480.0 364.3 L480.4 365.8 L480.7 367.3 L481.0 368.7 L481.4 370.2 L481.7 371.7 L482.1 373.1 L482.4 374.6 L482.8 376.0 L483.1 377.5 L483.5 378.9 L483.8 380.4 L484.2 381.9 L484.5 383.3 L484.9 384.8 L485.2 386.2 L485.6 387.7 L485.9 389.2 L486.3 390.6 L486.6 392.1 L487.0 393.5 L487.3 395.0 L487.7 396.5 L488.0 397.9 L488.4 399.4 L488.7 400.8 L489.1 402.3 L489.5 403.7 L489.8 405.2 L490.2 406.7 L490.6 408.1 L490.9 409.6 L491.3 411.0 L491.7 412.5 L492.0 413.9 L492.4 415.4 L492.8 416.8 L493.1 418.3 L493.5 419.8 L493.9 421.2 L494.2 422.7 L494.6 424.1 L495.0 425.6 L495.4 427.0 L495.8 428.5 L496.1 429.9 L496.5 431.4 L496.9 432.8 L497.3 434.3 L497.7 435.7 L498.0 437.2 L498.4 438.6 L498.8 440.1 L499.2 441.5 L499.6 443.0 L500.2 444.5 L500.9 445.9 L501.6 447.3 L502.3 448.7 L503.0 450.1 L503.8 451.5 L504.5 452.8 L505.4 454.2 L506.2 455.5 L507.1 456.8 L508.0 458.0 L508.9 459.3 L509.9 460.5 L510.8 461.7 L511.9 462.9 L512.9 464.1 L514.0 465.2 L515.1 466.3 L516.2 467.4 L517.3 468.5 L518.5 469.6 L518.9 471.1 L519.3 472.6 L519.7 474.1 L520.1 475.6 L520.5 477.1 L521.0 478.6 L521.4 480.2 L521.8 481.7 L522.3 483.2 L522.7 484.7 L523.2 486.1 L523.6 487.6 L524.1 489.1 L524.5 490.6 L525.0 492.1 L525.5 493.6 L525.9 495.1 L526.4 496.6 L526.9 498.1 L527.4 499.6 L527.9 501.0 L528.4 502.5 L528.9 504.0 L530.3 504.6 L531.7 505.1 L533.1 505.7 L534.6 506.2 L536.0 506.8 L537.4 507.3 L538.8 507.9 L540.2 508.4 L541.6 509.0 L543.0 509.5 L544.5 510.1 L545.9 510.6 L547.3 511.2 L548.7 511.7 L550.1 512.3 L551.5 512.8 L553.0 513.3 L554.4 513.9 L555.8 514.4 L557.2 515.0 L558.6 515.5 L560.0 516.1 L561.5 516.6 L562.9 517.2 L564.3 517.7 L565.7 518.3 L567.1 518.8 L568.5 519.4 L569.9 520.0 L571.4 520.5 L572.8 521.1 L574.2 521.6 L575.6 522.2 L577.0 522.8 L578.4 523.3 L579.8 523.9 L581.2 524.5 L582.6 525.1 L584.0 525.6 L585.4 526.2 L586.8 526.8 L588.2 527.4 L589.6 528.0 L591.0 528.6 L592.4 529.2 L593.8 529.8 L595.2 530.4 L596.6 531.0 L598.0 531.6 L599.5 531.8 L601.0 532.0 L602.5 532.2 L603.9 532.4 L605.4 532.6 L606.9 532.8 L608.4 533.0 L609.9 533.2 L611.4 533.4 L612.9 533.6 L614.4 533.8 L615.9 534.0 L617.3 534.2 L618.8 534.4 L620.3 534.6 L621.8 534.8 L623.3 535.0 L624.8 535.2 L626.3 535.4 L627.8 535.5 L629.2 535.7 L630.7 535.9 L632.2 536.1 L633.7 536.3 L635.2 536.5 L636.7 536.7 L638.2 536.9 L639.7 537.1 L641.2 537.3 L642.6 537.5 L644.1 537.7 L645.6 537.8 L647.1 538.0 L648.6 538.2 L650.1 538.4 L651.6 538.6 L653.1 538.8 L654.6 539.0 L656.0 539.2 L657.5 539.3 L659.0 539.5 L660.5 539.7 L662.0 539.9 L663.5 540.1 L665.0 540.3 L666.5 540.4 L668.0 540.6 L669.4 540.8 L670.9 541.0 L672.4 541.2 L673.9 541.4 L675.4 541.5 L676.9 541.7 L678.4 541.9 L679.9 542.1 L681.4 542.3 L682.9 542.4 L684.3 542.6 L685.8 542.8 L687.3 543.0 L688.8 543.1 L690.3 543.3 L691.8 543.5 L693.3 543.7 L694.8 543.8 L696.3 544.0 L697.8 544.2 L699.3 544.4 L700.7 544.5 L702.2 544.7 L703.7 544.9 L705.2 545.1 L706.7 545.2 L708.2 545.4 L709.7 545.6 L711.2 545.7 L712.7 545.9 L714.2 546.1 L715.7 546.3 L717.1 546.4 L718.6 546.6 L720.1 546.8 L721.6 546.9 L723.1 547.1 L724.6 547.3 L726.1 547.4 L727.6 547.6 L729.1 547.7 L730.6 547.9 L732.1 548.1 L733.6 548.2 L735.0 548.4 L736.5 548.6 L738.0 548.7 L739.5 548.9 L741.0 549.0 L742.5 549.2 L744.0 549.4 L745.5 549.5 L747.0 549.7 L748.5 549.8 L750.0 550.0 L751.5 550.2 L753.0 550.3 L754.4 550.5 L755.9 550.6 L757.4 550.8 L758.9 550.9 L760.4 551.1 L761.9 551.2 L763.4 551.4 L764.9 551.6 L766.4 551.7 L767.9 551.9 L769.4 552.0 L770.9 552.2 L772.4 552.3 L773.9 552.5 L775.3 552.6 L776.8 552.8 L778.3 552.9 L779.8 553.0 L781.3 553.2 L782.8 553.3 L784.3 553.5 L785.8 553.6 L787.3 553.8 L788.8 553.9 L790.3 554.1 L791.8 554.2 L793.3 554.4 L794.8 554.5 L796.3 554.6 L797.7 554.8 L799.2 554.9 L800.7 555.1 L802.2 555.2 L803.7 555.3 L805.2 555.5 L806.7 555.6 L808.2 555.8 L809.7 555.9 L811.2 556.0 L812.7 556.2 L814.2 556.3 L815.7 556.4 L817.2 556.6 L818.7 556.7 L820.2 556.8 L821.7 557.0 L823.2 557.1 L824.7 557.2 L826.1 557.4 L827.6 557.5 L829.1 557.6 L830.6 557.7 L832.1 557.9 L833.6 558.0 L835.1 558.1 L836.6 558.3 L838.1 558.4 L839.6 558.5 L841.1 558.6 L842.6 558.8 L844.1 558.9 L845.6 559.0 L847.1 559.1 L848.6 559.3 L850.1 559.4 L851.6 559.5 L853.1 559.6 L854.6 559.7 L856.1 559.9 L857.6 560.0 L859.1 560.1 L860.5 560.2 L862.0 560.3 L863.5 560.4 L865.0 560.6 L866.5 560.7 L868.0 560.8 L869.5 560.9 L871.0 561.0 L872.5 561.1 L874.0 561.2 L875.5 561.4 L877.0 561.5 L878.5 561.6 L880.0 561.7 L881.5 561.8 L883.0 561.9"/>
<path stroke="#de7d00" stroke-dasharray="3.85 3.52" stroke-dashoffset="6.65" d="M127.2 629.6 L128.2 628.6 L129.1 627.4 L129.8 626.1 L130.4 624.7 L130.9 623.2 L131.3 621.7 L131.7 620.1 L132.1 618.6 L132.5 617.1 L132.9 615.7 L133.4 614.4 L134.1 613.2 L134.8 612.1 L135.7 611.2 L136.8 610.5 L138.0 609.9 L139.3 609.6 L140.8 609.3 L142.4 609.2 L144.0 609.2 L145.6 609.2 L147.3 609.3 L149.0 609.4 L150.7 609.6 L152.3 609.7 L153.9 609.8 L155.5 609.8 L157.0 609.7 L158.4 609.5 L159.8 609.2 L161.0 608.7 L162.1 608.0 L163.2 607.2 L164.1 606.2 L164.9 605.1 L165.6 603.9 L166.3 602.6 L166.8 601.2 L167.3 599.7 L167.8 598.3 L168.1 596.8 L168.4 595.3 L168.6 593.8 L168.8 592.3 L169.0 590.8 L169.1 589.3 L169.2 587.8 L169.3 586.3 L169.3 584.8 L169.4 583.2 L169.5 581.7 L169.5 580.2 L169.6 578.7 L169.7 577.2 L169.7 575.7 L169.8 574.2 L169.9 572.7 L169.9 571.2 L170.0 569.7 L170.1 568.2 L170.1 566.7 L170.2 565.2 L170.3 563.7 L170.4 562.2 L170.4 560.7 L170.5 559.2 L170.6 557.7 L170.7 556.2 L170.7 554.7 L170.8 553.2 L170.9 551.7 L171.0 550.2 L171.0 548.7 L171.1 547.2 L171.2 545.7 L171.3 544.2 L171.3 542.7 L171.4 541.2 L171.5 539.7 L171.6 538.2 L171.6 536.7 L171.7 535.2 L171.8 533.7 L171.9 532.2 L171.9 530.7 L172.0 529.2 L172.1 527.7 L172.1 526.2 L172.2 524.7 L172.3 523.2 L172.3 521.7 L172.4 520.2 L172.5 518.7 L172.5 517.2 L172.6 515.7 L172.7 514.2 L172.7 512.7 L172.8 511.2 L172.9 509.7 L172.9 508.2 L173.0 506.7 L173.1 505.2 L173.1 503.8 L173.2 502.3 L173.3 500.8 L173.3 499.3 L173.4 497.8 L173.4 496.3 L173.5 494.8 L173.6 493.3 L173.6 491.8 L173.7 490.3 L173.7 488.8 L173.8 487.3 L173.8 485.8 L173.9 484.3 L174.0 482.8 L174.0 481.3 L174.1 479.8 L174.1 478.3 L174.2 476.8 L174.3 475.3 L174.3 473.8 L174.4 472.3 L174.4 470.8 L174.5 469.3 L174.5 467.8 L174.6 466.3 L174.6 464.8 L174.7 463.3 L174.8 461.8 L174.8 460.3 L174.9 458.8 L174.9 457.3 L175.0 455.8 L175.0 454.3 L175.1 452.8 L175.1 451.3 L175.2 449.8 L175.3 448.3 L175.3 446.8 L175.4 445.3 L175.4 443.8 L175.5 442.3 L175.5 440.8 L175.6 439.3 L175.6 437.8 L175.7 436.3 L175.8 434.8 L175.8 433.3 L175.9 431.8 L175.9 430.3 L176.0 428.8 L176.0 427.3 L176.1 425.8 L176.1 424.3 L176.2 422.8 L176.3 421.3 L176.3 419.8 L176.4 418.3 L176.4 416.8 L176.5 415.3 L176.6 413.8 L176.6 412.3 L176.7 410.8 L176.7 409.3 L176.8 407.8 L176.9 406.3 L176.9 404.8 L177.0 403.3 L177.0 401.8 L177.1 400.3 L177.2 398.8 L177.2 397.3 L177.3 395.8 L177.4 394.3 L177.4 392.8 L177.5 391.3 L177.6 389.8 L177.6 388.3 L177.7 386.8 L177.8 385.3 L177.8 383.8 L177.9 382.3 L178.0 380.8 L178.0 379.3 L178.1 377.8 L178.2 376.3 L178.2 374.8 L178.3 373.3 L178.4 371.8 L178.5 370.3 L178.5 368.8 L178.6 367.3 L178.7 365.8 L178.8 364.3 L178.8 362.8 L178.9 361.3 L179.0 359.8 L179.1 358.3 L179.1 356.8 L179.2 355.3 L179.3 353.8 L179.4 352.3 L179.5 350.8 L179.6 349.3 L179.6 347.8 L179.7 346.3 L179.8 344.9 L179.9 343.4 L180.0 341.9 L180.1 340.4 L180.2 338.9 L180.2 337.4 L180.3 335.9 L180.4 334.4 L180.5 332.9 L180.6 331.4 L180.7 329.9 L180.8 328.4 L180.9 326.9 L181.0 325.4 L181.1 323.9 L181.2 322.4 L181.3 320.9 L181.4 319.4 L181.5 317.9 L181.6 316.4 L181.7 314.9 L181.8 313.4 L181.9 311.9 L182.0 310.4 L182.2 308.9 L182.3 307.4 L182.4 305.9 L182.5 304.4 L182.6 302.9 L182.7 301.4 L182.8 299.9 L183.0 298.4 L183.1 296.9 L183.2 295.4 L183.3 294.0 L183.4 292.5 L183.6 291.0 L183.7 289.5 L183.8 288.0 L184.0 286.5 L184.1 285.0 L184.2 283.5 L184.3 282.0 L184.5 280.5 L184.6 279.0 L184.8 277.5 L184.9 276.0 L185.0 274.5 L185.2 273.0 L185.3 271.5 L185.5 270.0 L185.6 268.5 L185.7 267.1 L185.9 265.6 L186.0 264.1 L186.2 262.6 L186.4 261.1 L186.5 259.6 L186.7 258.1 L186.8 256.6 L187.0 255.1 L187.1 253.6 L187.3 252.1 L187.5 250.6 L187.6 249.1 L187.8 247.6 L188.0 246.2 L188.2 244.7 L188.3 243.2 L188.5 241.7 L188.7 240.2 L188.9 238.7 L189.1 237.2 L189.3 235.7 L189.4 234.2 L189.6 232.8 L189.8 231.3 L190.0 229.8 L190.2 228.3 L190.4 226.8 L190.6 225.3 L190.8 223.8 L191.1 222.4 L191.3 220.9 L191.5 219.4 L191.7 217.9 L191.9 216.4 L192.1 214.9 L192.4 213.5 L192.6 212.0 L192.8 210.5 L193.1 209.0 L193.3 207.5 L193.5 206.1 L193.8 204.6 L194.0 203.1 L194.3 201.6 L194.5 200.1 L194.8 198.7 L195.0 197.2 L195.3 195.7 L195.6 194.2 L195.8 192.8 L196.1 191.3 L196.4 189.8 L196.7 188.3 L196.9 186.9 L197.2 185.4 L197.5 183.9 L197.8 182.5 L198.1 181.0 L198.4 179.5 L198.7 178.1 L199.0 176.6 L199.3 175.1 L199.6 173.7 L200.0 172.2 L200.3 170.7 L200.6 169.3 L200.9 167.8 L201.3 166.4 L201.6 164.9 L202.0 163.4 L202.3 162.0 L202.6 160.5 L203.0 159.1 L203.4 157.6 L203.7 156.2 L204.1 154.7 L204.5 153.2 L204.8 151.8 L205.2 150.3 L205.6 148.9 L206.0 147.4 L206.4 146.0 L206.8 144.5 L207.2 143.1 L207.6 141.7 L208.0 140.2 L208.4 138.8 L208.8 137.3 L209.2 135.9 L209.7 134.4 L210.1 133.0 L210.5 131.6 L211.0 130.1 L211.4 128.7 L211.9 127.3 L212.3 125.8 L212.8 124.4 L213.3 123.0 L213.7 121.5 L214.2 120.1 L214.7 118.7 L215.2 117.3 L215.7 115.8 L216.2 114.4 L216.7 113.0 L217.2 111.6 L217.7 110.1 L218.2 108.7 L218.7 107.3 L219.3 105.9 L219.8 104.5 L220.3 103.1 L220.9 101.6 L221.4 100.2 L222.0 98.8 L222.6 97.4 L223.1 96.0 L223.7 94.6 L224.3 93.2 L224.9 91.8 L225.4 90.4 L226.0 89.0 L226.6 87.6 L227.3 86.2 L227.9 84.8 L228.5 83.4 L229.1 82.0 L229.7 80.6 L230.4 79.2 L231.0 77.8 L231.7 76.4 L232.3 75.0 L233.0 73.7 L233.7 72.3 L234.4 71.0 L235.1 69.7 L235.9 68.4 L236.7 67.2 L237.5 66.0 L238.4 64.9 L239.4 63.9 L240.4 63.0 L241.5 62.1 L242.6 61.4 L243.9 60.7 L245.2 60.2 L246.6 59.8 L248.1 59.5 L249.6 59.4 L251.1 59.5 L252.5 59.8 L253.8 60.4 L255.0 61.3 L256.1 62.3 L257.1 63.5 L258.0 64.8 L258.8 66.2 L259.6 67.6 L260.3 69.0 L260.9 70.4 L261.5 71.9 L262.1 73.3 L262.6 74.7 L263.1 76.1 L263.6 77.5 L264.1 78.9 L264.6 80.3 L265.0 81.7 L265.5 83.1 L265.9 84.6 L266.4 86.0 L266.8 87.4 L267.2 88.8 L267.7 90.3 L268.1 91.7 L268.5 93.1 L268.9 94.6 L269.3 96.0 L269.7 97.5 L270.1 98.9 L270.5 100.4 L270.9 101.8 L271.3 103.3 L271.7 104.7 L272.1 106.2 L272.4 107.6 L272.8 109.1 L273.2 110.5 L273.5 112.0 L273.9 113.5 L274.2 114.9 L274.6 116.4 L274.9 117.8 L275.3 119.3 L275.6 120.8 L275.9 122.2 L276.3 123.7 L276.6 125.2 L276.9 126.6 L277.2 128.1 L277.5 129.6 L277.9 131.0 L278.2 132.5 L278.5 134.0 L278.8 135.4 L279.1 136.9 L279.4 138.4 L279.7 139.8 L280.0 141.3 L280.3 142.8 L280.6 144.2 L280.9 145.7 L281.2 147.2 L281.5 148.6 L281.8 150.1 L282.1 151.6 L282.4 153.0 L282.7 154.5 L283.0 156.0 L283.3 157.5 L283.6 158.9 L283.9 160.4 L284.2 161.9 L284.5 163.3 L284.9 164.8 L285.2 166.3 L285.5 167.7 L285.8 169.2 L286.1 170.7 L286.4 172.1 L286.7 173.6 L287.0 175.0 L287.4 176.5 L287.7 178.0 L288.0 179.4 L288.3 180.9 L288.7 182.3 L289.0 183.8 L289.4 185.3 L289.7 186.7 L290.0 188.2 L290.4 189.6 L290.8 191.1 L291.1 192.5 L291.5 194.0 L291.8 195.5 L292.2 196.9 L292.6 198.4 L293.0 199.8 L293.4 201.3 L293.7 202.7 L294.1 204.1 L294.5 205.6 L294.9 207.0 L295.3 208.5 L295.7 209.9 L296.1 211.4 L296.5 212.8 L297.0 214.3 L297.4 215.7 L297.8 217.1 L298.2 218.6 L298.6 220.0 L299.1 221.5 L299.5 222.9 L299.9 224.3 L300.3 225.8 L300.8 227.2 L301.2 228.6 L301.7 230.1 L302.1 231.5 L302.5 232.9 L303.0 234.4 L303.4 235.8 L303.9 237.3 L304.3 238.7 L304.8 240.1 L305.2 241.6 L305.7 243.0 L306.1 244.4 L306.6 245.8 L307.0 247.3 L307.5 248.7 L307.9 250.1 L308.4 251.6 L308.9 253.0 L309.3 254.4 L309.8 255.9 L310.2 257.3 L310.7 258.7 L311.1 260.2 L311.6 261.6 L312.1 263.0 L312.5 264.5 L313.0 265.9 L313.4 267.3 L313.9 268.7 L314.4 270.2 L314.8 271.6 L315.3 273.0 L315.7 274.5 L316.2 275.9 L316.6 277.3 L317.1 278.8 L317.5 280.2 L318.0 281.6 L318.4 283.1 L318.9 284.5 L319.3 285.9 L319.8 287.4 L320.2 288.8 L320.6 290.2 L321.1 291.7 L321.5 293.1 L322.0 294.5 L322.4 296.0 L322.8 297.4 L323.2 298.8 L323.7 300.3 L324.1 301.7 L324.5 303.2 L324.9 304.6 L325.4 306.0 L325.8 307.5 L326.2 308.9 L326.6 310.4 L327.0 311.8 L327.4 313.2 L327.8 314.7 L328.2 316.1 L328.6 317.6 L329.0 319.0 L329.4 320.4 L329.9 321.9 L330.3 323.3 L330.6 324.8 L331.0 326.2 L331.4 327.7 L331.8 329.1 L332.2 330.6 L332.6 332.0 L333.0 333.4 L333.4 334.9 L333.8 336.3 L334.2 337.8 L334.6 339.2 L335.0 340.7 L335.4 342.1 L335.7 343.6 L336.1 345.0 L336.5 346.5 L336.9 347.9 L337.3 349.4 L337.7 350.8 L338.1 352.3 L338.4 353.7 L338.8 355.2 L339.2 356.6 L339.6 358.1 L340.0 359.5 L340.4 361.0 L340.7 362.4 L341.1 363.9 L341.5 365.3 L341.9 366.8 L342.3 368.2 L342.7 369.7 L343.0 371.1 L343.4 372.6 L343.8 374.0 L344.2 375.5 L344.6 376.9 L345.0 378.4 L345.4 379.8 L345.8 381.3 L346.1 382.8 L346.5 384.2 L346.9 385.7 L347.3 387.1 L347.7 388.6 L348.1 390.0 L348.5 391.5 L348.9 392.9 L349.3 394.4 L349.7 395.8 L350.1 397.3 L350.5 398.7 L350.9 400.2 L351.3 401.7 L351.7 403.1 L352.1 404.6 L352.5 406.0 L352.9 407.5 L353.3 408.9 L353.8 410.4 L354.2 411.8 L354.6 413.3 L355.1 414.7 L355.5 416.1 L356.0 417.6 L356.5 419.0 L357.0 420.4 L357.5 421.8 L358.0 423.2 L358.5 424.6 L359.1 426.0 L359.7 427.3 L360.3 428.7 L360.9 430.0 L361.5 431.4 L362.2 432.7 L362.9 434.0 L363.6 435.3 L364.3 436.6 L365.1 437.8 L365.9 439.1 L366.7 440.3 L367.5 441.5 L368.4 442.8 L369.2 444.0 L370.1 445.2 L371.0 446.4 L371.9 447.6 L372.8 448.8 L373.7 450.1 L374.5 451.3 L375.4 452.6 L376.3 453.8 L377.1 455.1 L378.0 456.3 L378.9 457.6 L379.7 458.8 L380.6 460.1 L381.5 461.3 L382.4 462.6 L383.3 463.8 L384.2 465.0 L385.1 466.3 L386.0 467.5 L387.0 468.7 L387.9 469.8 L388.9 471.0 L389.8 472.1 L390.8 473.3 L391.8 474.4 L392.9 475.4 L393.9 476.5 L395.0 477.5 L396.1 478.5 L397.1 479.5 L398.3 480.5 L399.4 481.5 L400.5 482.4 L401.7 483.4 L402.8 484.3 L404.0 485.2 L405.2 486.1 L406.4 486.9 L407.6 487.8 L408.8 488.6 L410.1 489.4 L411.3 490.2 L412.6 491.1 L413.8 491.8 L415.1 492.6 L416.4 493.4 L417.7 494.1 L419.0 494.9 L420.3 495.6 L421.6 496.4 L422.9 497.1 L424.2 497.8 L425.5 498.5 L426.9 499.2 L428.2 499.9 L429.6 500.6 L430.9 501.3 L432.2 502.0 L433.6 502.7 L435.0 503.3 L436.3 504.0 L437.7 504.7 L439.0 505.3 L440.4 506.0 L441.8 506.6 L443.1 507.3 L444.5 507.9 L445.9 508.5 L447.3 509.1 L448.7 509.7 L450.0 510.3 L451.4 510.9 L452.8 511.5 L454.2 512.1 L455.6 512.7 L457.0 513.2 L458.4 513.8 L459.8 514.3 L461.2 514.9 L462.6 515.4 L464.1 515.9 L465.5 516.4 L466.9 516.9 L468.3 517.4 L469.7 517.8 L471.2 518.3 L472.6 518.7 L474.0 519.2 L475.5 519.6 L476.9 520.0 L478.3 520.4 L479.8 520.8 L481.2 521.2 L482.7 521.6 L484.1 522.0 L485.6 522.3 L487.0 522.7 L488.5 523.0 L489.9 523.3 L491.4 523.7 L492.8 524.0 L494.3 524.3 L495.8 524.6 L497.2 524.9 L498.7 525.1 L500.2 525.4 L501.6 525.7 L503.1 525.9 L504.6 526.2 L506.0 526.4 L507.5 526.7 L509.0 526.9 L510.5 527.1 L511.9 527.4 L513.4 527.6 L514.9 527.8 L516.4 528.0 L517.9 528.2 L519.3 528.4 L520.8 528.5 L522.3 528.7 L523.8 528.9 L525.3 529.1 L526.8 529.2 L528.3 529.4 L529.8 529.6 L531.3 529.7 L532.8 529.9 L534.2 530.0 L535.7 530.2 L537.2 530.3 L538.7 530.4 L540.2 530.6 L541.7 530.7 L543.2 530.8 L544.7 531.0 L546.2 531.1 L547.7 531.2 L549.2 531.3 L550.7 531.4 L552.2 531.6 L553.7 531.7 L555.2 531.8 L556.7 531.9 L558.2 532.0 L559.7 532.1 L561.2 532.2 L562.7 532.3 L564.2 532.5 L565.7 532.6 L567.2 532.7 L568.7 532.8 L570.2 532.9 L571.7 533.0 L573.2 533.1 L574.7 533.3 L576.2 533.4 L577.7 533.5 L579.2 533.6 L580.7 533.7 L582.2 533.8 L583.7 534.0 L585.2 534.1 L586.7 534.2 L588.2 534.3 L589.7 534.4 L591.2 534.6 L592.7 534.7 L594.2 534.8 L595.7 534.9 L597.2 535.1 L598.7 535.2 L600.2 535.3 L601.7 535.4 L603.2 535.6 L604.7 535.7 L606.2 535.8 L607.6 535.9 L609.1 536.1 L610.6 536.2 L612.1 536.3 L613.6 536.4 L615.1 536.6 L616.6 536.7 L618.1 536.8 L619.6 537.0 L621.1 537.1 L622.6 537.2 L624.1 537.3 L625.6 537.5 L627.1 537.6 L628.6 537.7 L630.1 537.9 L631.6 538.0 L633.1 538.1 L634.5 538.2 L636.0 538.4 L637.5 538.5 L639.0 538.6 L640.5 538.8 L642.0 538.9 L643.5 539.0 L645.0 539.1 L646.5 539.3 L648.0 539.4 L649.5 539.5 L651.0 539.6 L652.5 539.8 L654.0 539.9 L655.5 540.0 L657.0 540.2 L658.4 540.3 L659.9 540.4 L661.4 540.5 L662.9 540.7 L664.4 540.8 L665.9 540.9 L667.4 541.0 L668.9 541.1 L670.4 541.3 L671.9 541.4 L673.4 541.5 L674.9 541.6 L676.4 541.8 L677.9 541.9 L679.4 542.0 L680.9 542.1 L682.3 542.2 L683.8 542.3 L685.3 542.5 L686.8 542.6 L688.3 542.7 L689.8 542.8 L691.3 542.9 L692.8 543.0 L694.3 543.2 L695.8 543.3 L697.3 543.4 L698.8 543.5 L700.3 543.6 L701.8 543.7 L703.3 543.8 L704.8 543.9 L706.3 544.0 L707.8 544.1 L709.3 544.2 L710.8 544.3 L712.3 544.4 L713.7 544.5 L715.2 544.6 L716.7 544.7 L718.2 544.8 L719.7 544.9 L721.2 545.0 L722.7 545.1 L724.2 545.2 L725.7 545.3 L727.2 545.4 L728.7 545.5 L730.2 545.6 L731.7 545.7 L733.2 545.8 L734.7 545.9 L736.2 546.0 L737.7 546.0 L739.2 546.1 L740.7 546.2 L742.2 546.3 L743.7 546.4 L745.2 546.5 L746.7 546.6 L748.2 546.7 L749.7 546.7 L751.2 546.8 L752.7 546.9 L754.2 547.0 L755.7 547.1 L757.2 547.2 L758.7 547.3 L760.2 547.4 L761.7 547.5 L763.2 547.5 L764.7 547.6 L766.2 547.7 L767.7 547.8 L769.2 547.9 L770.7 548.0 L772.2 548.1 L773.7 548.2 L775.2 548.3 L776.7 548.4 L778.2 548.5 L779.7 548.6 L781.2 548.7 L782.7 548.8 L784.2 548.9 L785.7 549.0 L787.2 549.1 L788.7 549.2 L790.2 549.3 L791.7 549.4 L793.2 549.5 L794.7 549.6 L796.2 549.8 L797.7 549.9 L799.2 550.0 L800.7 550.1 L802.2 550.2 L803.6 550.4 L805.1 550.5 L806.6 550.6 L808.1 550.7 L809.6 550.9 L811.1 551.0 L812.6 551.1 L814.1 551.3 L815.6 551.4 L817.1 551.5 L818.6 551.7 L820.1 551.8 L821.6 552.0 L823.1 552.1 L824.6 552.2 L826.1 552.4 L827.6 552.5 L829.1 552.6 L830.5 552.8 L832.0 552.9 L833.5 553.0 L835.0 553.1 L836.5 553.2 L838.0 553.3 L839.5 553.5 L841.0 553.6 L842.5 553.7 L844.0 553.7 L845.5 553.8 L847.0 553.9 L848.5 554.0 L850.0 554.1 L851.5 554.1 L853.0 554.2 L854.5 554.2 L856.0 554.2 L857.5 554.3 L859.0 554.3 L860.5 554.3 L862.0 554.3 L863.5 554.3 L865.0 554.3 L866.5 554.2 L868.0 554.2 L869.5 554.1 L871.0 554.1 L872.5 554.0 L874.0 553.9 L875.5 553.8 L877.0 553.7 L878.5 553.6 L880.0 553.4 L881.5 553.3 L883.0 553.1"/>
<path stroke="#007f00" stroke-dasharray="3.85 3.52" d="M127.0 629.3 L128.9 629.3 L130.5 629.0 L131.9 628.4 L133.1 627.7 L134.1 626.7 L134.9 625.6 L135.6 624.4 L136.2 623.1 L136.7 621.6 L137.2 620.2 L137.6 618.7 L138.1 617.3 L138.6 615.9 L139.1 614.6 L139.7 613.4 L140.5 612.4 L141.3 611.4 L142.3 610.6 L143.4 610.0 L144.6 609.6 L145.9 609.3 L147.4 609.1 L148.9 609.0 L150.5 609.0 L152.1 609.1 L153.8 609.2 L155.5 609.3 L157.1 609.4 L158.8 609.5 L160.5 609.6 L162.1 609.6 L163.7 609.6 L165.2 609.5 L166.7 609.3 L168.1 609.0 L169.4 608.5 L170.6 607.9 L171.8 607.2 L172.8 606.3 L173.7 605.3 L174.5 604.2 L175.1 602.9 L175.7 601.6 L176.2 600.2 L176.6 598.7 L176.9 597.3 L177.2 595.8 L177.4 594.3 L177.6 592.8 L177.8 591.3 L178.0 589.8 L178.1 588.3 L178.2 586.8 L178.3 585.3 L178.4 583.8 L178.4 582.3 L178.5 580.8 L178.6 579.3 L178.7 577.8 L178.8 576.3 L178.8 574.8 L178.9 573.3 L179.0 571.8 L179.1 570.3 L179.1 568.8 L179.2 567.3 L179.3 565.8 L179.4 564.3 L179.4 562.8 L179.5 561.3 L179.6 559.8 L179.7 558.3 L179.7 556.8 L179.8 555.3 L179.9 553.7 L180.0 552.2 L180.0 550.7 L180.1 549.2 L180.2 547.7 L180.2 546.2 L180.3 544.7 L180.4 543.2 L180.4 541.7 L180.5 540.2 L180.6 538.7 L180.7 537.2 L180.7 535.7 L180.8 534.2 L180.9 532.7 L180.9 531.2 L181.0 529.7 L181.1 528.2 L181.1 526.7 L181.2 525.2 L181.3 523.7 L181.3 522.2 L181.4 520.7 L181.5 519.2 L181.5 517.7 L181.6 516.2 L181.7 514.7 L181.7 513.2 L181.8 511.7 L181.8 510.2 L181.9 508.7 L182.0 507.2 L182.0 505.7 L182.1 504.2 L182.2 502.7 L182.2 501.2 L182.3 499.7 L182.4 498.2 L182.4 496.7 L182.5 495.2 L182.5 493.7 L182.6 492.2 L182.7 490.7 L182.7 489.2 L182.8 487.7 L182.9 486.2 L182.9 484.7 L183.0 483.2 L183.0 481.7 L183.1 480.2 L183.2 478.7 L183.2 477.2 L183.3 475.7 L183.4 474.2 L183.4 472.7 L183.5 471.2 L183.5 469.7 L183.6 468.2 L183.7 466.7 L183.7 465.2 L183.8 463.7 L183.9 462.2 L183.9 460.7 L184.0 459.2 L184.0 457.7 L184.1 456.2 L184.2 454.7 L184.2 453.2 L184.3 451.7 L184.4 450.2 L184.4 448.7 L184.5 447.2 L184.5 445.7 L184.6 444.2 L184.7 442.7 L184.7 441.2 L184.8 439.7 L184.9 438.2 L184.9 436.7 L185.0 435.2 L185.1 433.8 L185.1 432.3 L185.2 430.8 L185.3 429.3 L185.3 427.8 L185.4 426.3 L185.5 424.8 L185.5 423.3 L185.6 421.8 L185.7 420.3 L185.7 418.8 L185.8 417.3 L185.9 415.8 L185.9 414.3 L186.0 412.8 L186.1 411.3 L186.1 409.8 L186.2 408.3 L186.3 406.8 L186.3 405.3 L186.4 403.8 L186.5 402.3 L186.6 400.8 L186.6 399.3 L186.7 397.8 L186.8 396.3 L186.8 394.8 L186.9 393.3 L187.0 391.8 L187.1 390.3 L187.1 388.8 L187.2 387.3 L187.3 385.8 L187.4 384.3 L187.4 382.8 L187.5 381.3 L187.6 379.8 L187.7 378.3 L187.7 376.8 L187.8 375.4 L187.9 373.9 L188.0 372.4 L188.1 370.9 L188.1 369.4 L188.2 367.9 L188.3 366.4 L188.4 364.9 L188.5 363.4 L188.5 361.9 L188.6 360.4 L188.7 358.9 L188.8 357.4 L188.9 355.9 L189.0 354.4 L189.0 352.9 L189.1 351.4 L189.2 349.9 L189.3 348.4 L189.4 346.9 L189.5 345.4 L189.6 343.9 L189.7 342.4 L189.8 340.9 L189.8 339.4 L189.9 337.9 L190.0 336.4 L190.1 334.9 L190.2 333.4 L190.3 331.9 L190.4 330.4 L190.5 328.9 L190.6 327.5 L190.7 326.0 L190.8 324.5 L190.9 323.0 L191.0 321.5 L191.1 320.0 L191.2 318.5 L191.3 317.0 L191.4 315.5 L191.5 314.0 L191.6 312.5 L191.8 311.0 L191.9 309.5 L192.0 308.0 L192.1 306.5 L192.2 305.0 L192.3 303.5 L192.5 302.0 L192.6 300.5 L192.7 299.0 L192.8 297.5 L193.0 296.0 L193.1 294.6 L193.2 293.1 L193.4 291.6 L193.5 290.1 L193.7 288.6 L193.8 287.1 L193.9 285.6 L194.1 284.1 L194.2 282.6 L194.4 281.1 L194.5 279.6 L194.7 278.1 L194.9 276.6 L195.0 275.2 L195.2 273.7 L195.4 272.2 L195.5 270.7 L195.7 269.2 L195.9 267.7 L196.1 266.2 L196.2 264.7 L196.4 263.2 L196.6 261.8 L196.8 260.3 L197.0 258.8 L197.2 257.3 L197.4 255.8 L197.6 254.3 L197.8 252.8 L198.0 251.4 L198.2 249.9 L198.5 248.4 L198.7 246.9 L198.9 245.4 L199.1 243.9 L199.4 242.5 L199.6 241.0 L199.8 239.5 L200.1 238.0 L200.3 236.5 L200.6 235.1 L200.8 233.6 L201.1 232.1 L201.4 230.6 L201.6 229.2 L201.9 227.7 L202.2 226.2 L202.5 224.7 L202.8 223.3 L203.0 221.8 L203.3 220.3 L203.6 218.8 L203.9 217.4 L204.3 215.9 L204.6 214.4 L204.9 213.0 L205.2 211.5 L205.5 210.0 L205.9 208.5 L206.2 207.1 L206.5 205.6 L206.9 204.1 L207.2 202.7 L207.6 201.2 L208.0 199.8 L208.3 198.3 L208.7 196.8 L209.1 195.4 L209.4 193.9 L209.8 192.4 L210.2 191.0 L210.6 189.5 L211.0 188.1 L211.4 186.6 L211.8 185.2 L212.2 183.7 L212.6 182.3 L213.0 180.8 L213.4 179.4 L213.8 177.9 L214.3 176.5 L214.7 175.0 L215.1 173.6 L215.5 172.2 L215.9 170.7 L216.4 169.3 L216.8 167.9 L217.2 166.4 L217.6 165.0 L218.1 163.6 L218.5 162.2 L218.9 160.8 L219.4 159.3 L219.8 157.9 L220.2 156.5 L220.6 155.1 L221.1 153.7 L221.5 152.3 L221.9 150.9 L222.4 149.5 L222.8 148.1 L223.2 146.7 L223.7 145.3 L224.2 143.9 L224.7 142.5 L225.1 141.1 L225.7 139.7 L226.2 138.3 L226.7 136.9 L227.3 135.5 L227.9 134.1 L228.5 132.7 L229.2 131.3 L229.8 129.9 L230.5 128.5 L231.3 127.0 L232.1 125.6 L232.9 124.2 L233.7 122.8 L234.6 121.5 L235.5 120.1 L236.5 118.9 L237.5 117.7 L238.6 116.6 L239.7 115.6 L240.9 114.7 L242.1 113.9 L243.4 113.3 L244.7 112.8 L246.0 112.4 L247.4 112.2 L248.8 112.2 L250.1 112.4 L251.3 112.8 L252.4 113.4 L253.5 114.1 L254.5 114.9 L255.4 115.9 L256.2 117.1 L257.0 118.3 L257.7 119.6 L258.4 120.9 L259.1 122.3 L259.8 123.8 L260.4 125.3 L261.0 126.7 L261.7 128.2 L262.3 129.6 L262.9 131.1 L263.5 132.5 L264.1 133.9 L264.8 135.4 L265.4 136.8 L266.0 138.2 L266.6 139.6 L267.2 141.0 L267.8 142.4 L268.3 143.8 L268.9 145.2 L269.5 146.6 L270.1 148.0 L270.7 149.4 L271.2 150.8 L271.8 152.2 L272.4 153.6 L272.9 154.9 L273.5 156.3 L274.1 157.7 L274.6 159.1 L275.2 160.5 L275.7 161.8 L276.3 163.2 L276.8 164.6 L277.3 166.0 L277.9 167.4 L278.4 168.8 L278.9 170.1 L279.4 171.5 L280.0 172.9 L280.5 174.3 L281.0 175.7 L281.5 177.1 L282.0 178.5 L282.5 179.9 L283.0 181.3 L283.5 182.7 L284.0 184.1 L284.5 185.5 L285.0 186.9 L285.5 188.3 L286.0 189.8 L286.4 191.2 L286.9 192.6 L287.4 194.0 L287.9 195.4 L288.3 196.8 L288.8 198.3 L289.3 199.7 L289.7 201.1 L290.2 202.6 L290.6 204.0 L291.1 205.4 L291.6 206.8 L292.0 208.3 L292.5 209.7 L292.9 211.1 L293.3 212.6 L293.8 214.0 L294.2 215.5 L294.7 216.9 L295.1 218.3 L295.5 219.8 L296.0 221.2 L296.4 222.7 L296.8 224.1 L297.2 225.5 L297.7 227.0 L298.1 228.4 L298.5 229.9 L298.9 231.3 L299.3 232.8 L299.8 234.2 L300.2 235.7 L300.6 237.1 L301.0 238.6 L301.4 240.0 L301.8 241.5 L302.2 242.9 L302.6 244.4 L303.0 245.8 L303.4 247.3 L303.8 248.7 L304.2 250.2 L304.6 251.6 L305.0 253.1 L305.4 254.5 L305.8 256.0 L306.2 257.4 L306.6 258.9 L307.0 260.3 L307.4 261.8 L307.8 263.2 L308.1 264.7 L308.5 266.1 L308.9 267.6 L309.3 269.0 L309.7 270.5 L310.1 271.9 L310.5 273.4 L310.8 274.8 L311.2 276.3 L311.6 277.7 L312.0 279.2 L312.3 280.6 L312.7 282.1 L313.1 283.5 L313.5 285.0 L313.9 286.4 L314.2 287.9 L314.6 289.3 L315.0 290.8 L315.3 292.2 L315.7 293.7 L316.1 295.1 L316.5 296.6 L316.8 298.0 L317.2 299.5 L317.6 300.9 L317.9 302.4 L318.3 303.8 L318.7 305.3 L319.0 306.8 L319.4 308.2 L319.8 309.7 L320.1 311.1 L320.5 312.6 L320.9 314.0 L321.2 315.5 L321.6 316.9 L322.0 318.4 L322.3 319.8 L322.7 321.3 L323.1 322.7 L323.4 324.2 L323.8 325.6 L324.1 327.1 L324.5 328.5 L324.9 330.0 L325.2 331.4 L325.6 332.9 L326.0 334.3 L326.3 335.8 L326.7 337.2 L327.0 338.7 L327.4 340.2 L327.8 341.6 L328.1 343.1 L328.5 344.5 L328.9 346.0 L329.2 347.4 L329.6 348.9 L329.9 350.3 L330.3 351.8 L330.7 353.2 L331.0 354.7 L331.4 356.2 L331.8 357.6 L332.1 359.1 L332.5 360.5 L332.9 362.0 L333.2 363.4 L333.6 364.9 L334.0 366.3 L334.3 367.8 L334.7 369.3 L335.1 370.7 L335.4 372.2 L335.8 373.6 L336.2 375.1 L336.5 376.5 L336.9 378.0 L337.3 379.5 L337.6 380.9 L338.0 382.4 L338.4 383.8 L338.8 385.3 L339.2 386.7 L339.5 388.2 L339.9 389.6 L340.3 391.1 L340.7 392.6 L341.1 394.0 L341.5 395.5 L341.8 396.9 L342.2 398.4 L342.6 399.8 L343.0 401.3 L343.4 402.7 L343.8 404.2 L344.2 405.6 L344.6 407.1 L345.0 408.5 L345.4 409.9 L345.8 411.4 L346.2 412.8 L346.7 414.3 L347.1 415.7 L347.5 417.2 L347.9 418.6 L348.3 420.0 L348.8 421.5 L349.2 422.9 L349.6 424.3 L350.1 425.8 L350.5 427.2 L351.0 428.6 L351.4 430.1 L351.9 431.5 L352.3 432.9 L352.8 434.3 L353.2 435.8 L353.7 437.2 L354.2 438.6 L354.7 440.0 L355.2 441.4 L355.7 442.8 L356.3 444.2 L356.8 445.6 L357.4 447.0 L357.9 448.3 L358.5 449.7 L359.1 451.1 L359.8 452.4 L360.4 453.8 L361.0 455.1 L361.7 456.4 L362.4 457.8 L363.1 459.1 L363.9 460.4 L364.6 461.7 L365.4 462.9 L366.2 464.2 L367.0 465.5 L367.9 466.7 L368.7 468.0 L369.6 469.2 L370.5 470.4 L371.4 471.7 L372.3 472.9 L373.2 474.1 L374.1 475.3 L375.1 476.5 L376.0 477.7 L377.0 478.9 L377.9 480.0 L378.9 481.2 L379.8 482.4 L380.8 483.6 L381.7 484.7 L382.6 485.9 L383.6 487.1 L384.5 488.2 L385.5 489.3 L386.5 490.4 L387.5 491.5 L388.5 492.6 L389.5 493.6 L390.6 494.6 L391.8 495.6 L392.9 496.5 L394.1 497.4 L395.3 498.2 L396.6 499.0 L397.9 499.8 L399.2 500.6 L400.5 501.4 L401.8 502.1 L403.1 502.9 L404.4 503.6 L405.7 504.3 L407.1 505.0 L408.4 505.8 L409.7 506.5 L411.1 507.2 L412.4 507.8 L413.8 508.5 L415.1 509.2 L416.5 509.8 L417.9 510.5 L419.2 511.1 L420.6 511.7 L422.0 512.4 L423.3 513.0 L424.7 513.6 L426.1 514.1 L427.5 514.7 L428.9 515.3 L430.3 515.8 L431.7 516.3 L433.1 516.9 L434.5 517.4 L435.9 517.9 L437.4 518.3 L438.8 518.8 L440.2 519.2 L441.6 519.7 L443.1 520.1 L444.5 520.5 L445.9 520.9 L447.4 521.3 L448.8 521.6 L450.3 522.0 L451.7 522.3 L453.2 522.6 L454.7 522.9 L456.1 523.2 L457.6 523.5 L459.1 523.7 L460.6 524.0 L462.0 524.2 L463.5 524.4 L465.0 524.6 L466.5 524.8 L468.0 525.0 L469.5 525.2 L470.9 525.4 L472.4 525.6 L473.9 525.7 L475.4 525.9 L476.9 526.1 L478.4 526.2 L479.9 526.4 L481.4 526.5 L482.9 526.7 L484.4 526.8 L485.9 527.0 L487.4 527.1 L488.9 527.3 L490.4 527.4 L491.9 527.6 L493.4 527.7 L494.9 527.9 L496.4 528.0 L497.9 528.2 L499.4 528.4 L500.9 528.5 L502.4 528.7 L503.8 528.9 L505.3 529.1 L506.8 529.2 L508.3 529.4 L509.8 529.6 L511.3 529.8 L512.8 529.9 L514.3 530.1 L515.8 530.3 L517.3 530.5 L518.8 530.7 L520.3 530.9 L521.7 531.1 L523.2 531.3 L524.7 531.4 L526.2 531.6 L527.7 531.8 L529.2 532.0 L530.7 532.2 L532.2 532.4 L533.6 532.6 L535.1 532.8 L536.6 533.0 L538.1 533.2 L539.6 533.4 L541.1 533.6 L542.6 533.8 L544.1 534.0 L545.5 534.2 L547.0 534.4 L548.5 534.6 L550.0 534.9 L551.5 535.1 L553.0 535.3 L554.5 535.5 L555.9 535.7 L557.4 535.9 L558.9 536.1 L560.4 536.3 L561.9 536.5 L563.4 536.7 L564.8 536.9 L566.3 537.1 L567.8 537.4 L569.3 537.6 L570.8 537.8 L572.3 538.0 L573.8 538.2 L575.2 538.4 L576.7 538.6 L578.2 538.8 L579.7 539.0 L581.2 539.2 L582.7 539.4 L584.2 539.6 L585.6 539.8 L587.1 540.0 L588.6 540.2 L590.1 540.4 L591.6 540.6 L593.1 540.8 L594.5 541.0 L596.0 541.2 L597.5 541.4 L599.0 541.6 L600.5 541.8 L602.0 542.0 L603.5 542.2 L605.0 542.4 L606.4 542.6 L607.9 542.8 L609.4 543.0 L610.9 543.2 L612.4 543.4 L613.9 543.5 L615.4 543.7 L616.9 543.9 L618.3 544.1 L619.8 544.3 L621.3 544.5 L622.8 544.6 L624.3 544.8 L625.8 545.0 L627.3 545.2 L628.8 545.3 L630.3 545.5 L631.7 545.7 L633.2 545.9 L634.7 546.0 L636.2 546.2 L637.7 546.4 L639.2 546.6 L640.7 546.7 L642.2 546.9 L643.7 547.1 L645.1 547.2 L646.6 547.4 L648.1 547.6 L649.6 547.7 L651.1 547.9 L652.6 548.0 L654.1 548.2 L655.6 548.4 L657.1 548.5 L658.6 548.7 L660.1 548.8 L661.6 549.0 L663.0 549.2 L664.5 549.3 L666.0 549.5 L667.5 549.6 L669.0 549.8 L670.5 549.9 L672.0 550.1 L673.5 550.2 L675.0 550.4 L676.5 550.5 L678.0 550.7 L679.5 550.8 L681.0 551.0 L682.4 551.1 L683.9 551.3 L685.4 551.4 L686.9 551.6 L688.4 551.7 L689.9 551.9 L691.4 552.0 L692.9 552.1 L694.4 552.3 L695.9 552.4 L697.4 552.6 L698.9 552.7 L700.4 552.9 L701.9 553.0 L703.4 553.1 L704.9 553.3 L706.3 553.4 L707.8 553.5 L709.3 553.7 L710.8 553.8 L712.3 554.0 L713.8 554.1 L715.3 554.2 L716.8 554.4 L718.3 554.5 L719.8 554.6 L721.3 554.8 L722.8 554.9 L724.3 555.0 L725.8 555.2 L727.3 555.3 L728.8 555.4 L730.3 555.6 L731.8 555.7 L733.3 555.8 L734.7 555.9 L736.2 556.1 L737.7 556.2 L739.2 556.3 L740.7 556.5 L742.2 556.6 L743.7 556.7 L745.2 556.8 L746.7 557.0 L748.2 557.1 L749.7 557.2 L751.2 557.3 L752.7 557.5 L754.2 557.6 L755.7 557.7 L757.2 557.8 L758.7 558.0 L760.2 558.1 L761.7 558.2 L763.2 558.3 L764.7 558.5 L766.2 558.6 L767.6 558.7 L769.1 558.8 L770.6 559.0 L772.1 559.1 L773.6 559.2 L775.1 559.3 L776.6 559.4 L778.1 559.5 L779.6 559.7 L781.1 559.8 L782.6 559.9 L784.1 560.0 L785.6 560.1 L787.1 560.2 L788.6 560.3 L790.1 560.4 L791.6 560.5 L793.1 560.6 L794.6 560.8 L796.1 560.9 L797.6 561.0 L799.1 561.1 L800.6 561.1 L802.1 561.2 L803.6 561.3 L805.1 561.4 L806.5 561.5 L808.0 561.6 L809.5 561.7 L811.0 561.8 L812.5 561.8 L814.0 561.9 L815.5 562.0 L817.0 562.1 L818.5 562.1 L820.0 562.2 L821.5 562.3 L823.0 562.3 L824.5 562.4 L826.0 562.4 L827.5 562.5 L829.0 562.5 L830.5 562.6 L832.0 562.6 L833.5 562.7 L835.0 562.7 L836.5 562.8 L838.0 562.8 L839.5 562.8 L841.0 562.8 L842.5 562.9 L844.0 562.9 L845.5 562.9 L847.0 562.9 L848.5 562.9 L850.0 562.9 L851.5 562.9 L853.0 562.9 L854.5 562.9 L856.0 562.9 L857.5 562.9 L859.0 562.8 L860.5 562.8 L862.0 562.8 L863.5 562.8 L865.0 562.7 L866.5 562.7 L868.0 562.6 L869.5 562.6 L871.0 562.5 L872.5 562.5 L874.0 562.4 L875.5 562.3 L877.0 562.2 L878.5 562.2 L880.0 562.1 L881.5 562.0 L883.0 561.9"/>
</g>
<g font-size="44" fill="#000">
<text x="127.9" y="687" text-anchor="middle">0</text>
<text x="316.8" y="687" text-anchor="middle">20</text>
<text x="505.8" y="687" text-anchor="middle">40</text>
<text x="694.7" y="687" text-anchor="middle">60</text>
<text x="883.6" y="687" text-anchor="middle">80</text>
<text x="108" y="643.9" text-anchor="end">0</text>
<text x="108" y="529.9" text-anchor="end">1</text>
<text x="108" y="415.8" text-anchor="end">2</text>
<text x="108" y="301.8" text-anchor="end">3</text>
<text x="108" y="187.7" text-anchor="end">4</text>
<text x="108" y="73.7" text-anchor="end">5</text>
</g>
<text x="129" y="57.3" font-size="54">×</text>
<text x="161.2" y="49.8" font-size="45">10</text>
<text x="205.6" y="28.6" font-size="35">5</text>
<text x="504.5" y="740" font-size="47" text-anchor="middle">t [ns]</text>
<g transform="translate(39.2,455.2) rotate(-90)">
<text x="0" y="0" font-size="47">T</text>
<text x="30.4" y="23.7" font-size="36">ve, max</text>
<text x="157.6" y="0" font-size="47">[K]</text>
</g>
<path d="M724.1 95.2 H762" stroke="#000" stroke-width="3.9" fill="none"/>
<text x="765.2" y="104.0" font-size="38.6" fill="#000">case L</text>
<path d="M724.1 139.0 H762" stroke="#f00" stroke-width="3.9" fill="none" stroke-dasharray="15.9 13.8"/>
<text x="765.2" y="148.7" font-size="38.6" fill="#f00">case C</text>
<path d="M724.1 182.8 H762" stroke="#00f" stroke-width="3.9" fill="none" stroke-dasharray="15.6 3.2 8.2 2.9"/>
<text x="765.2" y="194.1" font-size="38.6" fill="#00f">case R</text>
<path d="M724.1 226.6 H762" stroke="#de7d00" stroke-width="3.9" fill="none" stroke-dasharray="3.85 3.52"/>
<text x="765.2" y="239.8" font-size="38.6" fill="#de7d00">case 0</text>
<path d="M724.1 270.4 H762" stroke="#007f00" stroke-width="3.9" fill="none" stroke-dasharray="3.85 3.52"/>
<text x="765.2" y="279.8" font-size="38.6" fill="#007f00">case 1</text>
</svg></body></html>
